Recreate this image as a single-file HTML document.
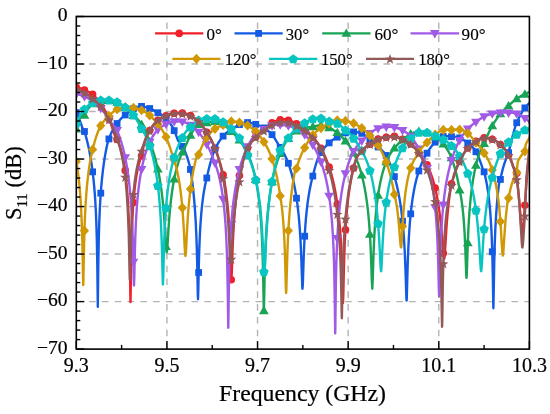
<!DOCTYPE html>
<html><head><meta charset="utf-8"><title>S11</title>
<style>html,body{margin:0;padding:0;background:#fff;} svg{display:block;}</style></head>
<body>
<svg width="550" height="414" viewBox="0 0 550 414">
<defs><clipPath id="pc"><rect x="76.30" y="16.50" width="453.10" height="332.60"/></clipPath></defs>
<rect width="550" height="414" fill="#fff"/>
<g stroke="#b4b4b4" stroke-width="1.4" stroke-dasharray="6.6,6.2" fill="none"><line x1="166.92" y1="349.10" x2="166.92" y2="16.50"/><line x1="257.54" y1="349.10" x2="257.54" y2="16.50"/><line x1="348.16" y1="349.10" x2="348.16" y2="16.50"/><line x1="438.78" y1="349.10" x2="438.78" y2="16.50"/><line x1="76.30" y1="64.01" x2="529.40" y2="64.01"/><line x1="76.30" y1="111.53" x2="529.40" y2="111.53"/><line x1="76.30" y1="159.04" x2="529.40" y2="159.04"/><line x1="76.30" y1="206.56" x2="529.40" y2="206.56"/><line x1="76.30" y1="254.07" x2="529.40" y2="254.07"/><line x1="76.30" y1="301.59" x2="529.40" y2="301.59"/></g>
<g clip-path="url(#pc)">
<path d="M75.30,87.47 75.80,87.38 76.30,87.30 76.80,87.39 77.30,87.49 77.80,87.60 78.30,87.72 78.80,87.85 79.30,87.99 79.80,88.14 80.30,88.30 80.80,88.47 81.30,88.65 81.80,88.84 82.30,89.04 82.80,89.25 83.30,89.47 83.80,89.71 84.30,89.95 84.80,90.18 85.30,90.37 85.80,90.57 86.30,90.78 86.80,91.00 87.30,91.24 87.80,91.48 88.30,91.73 88.80,91.99 89.30,92.27 89.80,92.55 90.30,92.85 90.80,93.15 91.30,93.47 91.80,93.80 92.30,94.14 92.80,94.51 93.30,94.98 93.80,95.47 94.30,95.96 94.80,96.46 95.30,96.98 95.80,97.51 96.30,98.06 96.80,98.61 97.30,99.18 97.80,99.77 98.30,100.36 98.80,100.97 99.30,101.60 99.80,102.24 100.30,102.94 100.80,103.68 101.30,104.44 101.80,105.21 102.30,106.00 102.80,106.81 103.30,107.64 103.80,108.48 104.30,109.34 104.80,110.22 105.30,111.12 105.80,112.04 106.30,112.98 106.80,113.94 107.30,114.93 107.80,116.04 108.30,117.25 108.80,118.48 109.30,119.73 109.80,121.02 110.30,122.33 110.80,123.67 111.30,125.04 111.80,126.44 112.30,127.88 112.80,129.35 113.30,130.85 113.80,132.40 114.30,133.98 114.80,135.44 115.30,136.25 115.80,137.12 116.30,138.03 116.80,139.00 117.30,140.03 117.80,141.12 118.30,142.28 118.80,143.51 119.30,144.82 119.80,146.22 120.30,147.71 120.80,149.30 121.30,151.01 121.80,152.84 122.30,154.81 122.80,156.93 123.30,159.24 123.80,161.75 124.30,164.49 124.80,167.50 125.30,170.94 125.80,175.53 126.30,180.60 126.80,186.26 127.30,192.67 127.80,200.08 128.30,208.91 128.80,219.84 129.30,234.28 129.80,255.49 130.30,291.32 130.50,302.06 130.80,283.14 131.30,251.78 131.80,233.35 132.30,220.74 132.80,211.26 133.30,203.71 133.80,197.46 134.30,192.16 134.80,187.57 135.30,183.55 135.80,179.97 136.30,176.76 136.80,173.86 137.30,171.23 137.80,168.82 138.30,166.61 138.80,164.57 139.30,162.68 139.80,160.93 140.30,159.31 140.80,157.79 141.30,156.37 141.80,154.52 142.30,152.21 142.80,149.99 143.30,147.83 143.80,145.74 144.30,143.72 144.80,141.75 145.30,139.83 145.80,138.38 146.30,137.24 146.80,136.15 147.30,135.10 147.80,134.10 148.30,133.13 148.80,132.20 149.30,131.30 149.80,130.43 150.30,129.60 150.80,128.79 151.30,128.02 151.80,127.27 152.30,126.55 152.80,125.85 153.30,125.18 153.80,124.53 154.30,123.90 154.80,123.30 155.30,122.71 155.80,122.15 156.30,121.61 156.80,121.14 157.30,120.71 157.80,120.29 158.30,119.89 158.80,119.51 159.30,119.15 159.80,118.80 160.30,118.47 160.80,118.15 161.30,117.85 161.80,117.57 162.30,117.30 162.80,117.04 163.30,116.80 163.80,116.57 164.30,116.35 164.80,116.15 165.30,115.96 165.80,115.78 166.30,115.62 166.80,115.47 167.30,115.33 167.80,115.10 168.30,114.89 168.80,114.69 169.30,114.50 169.80,114.32 170.30,114.16 170.80,114.00 171.30,113.86 171.80,113.72 172.30,113.60 172.80,113.49 173.30,113.39 173.80,113.30 174.30,113.22 174.80,113.15 175.30,113.09 175.80,113.04 176.30,113.01 176.80,112.98 177.30,112.96 177.80,112.95 178.30,112.94 178.80,112.93 179.30,112.93 179.80,112.94 180.30,112.96 180.80,112.98 181.30,113.02 181.80,113.07 182.30,113.13 182.80,113.20 183.30,113.28 183.80,113.37 184.30,113.46 184.80,113.57 185.30,113.69 185.80,113.82 186.30,113.96 186.80,114.11 187.30,114.27 187.80,114.44 188.30,114.63 188.80,114.82 189.30,115.02 189.80,115.23 190.30,115.48 190.80,115.74 191.30,116.02 191.80,116.31 192.30,116.61 192.80,116.92 193.30,117.24 193.80,117.57 194.30,117.92 194.80,118.28 195.30,118.65 195.80,119.03 196.30,119.42 196.80,119.83 197.30,120.25 197.80,120.68 198.30,121.13 198.80,121.61 199.30,122.17 199.80,122.74 200.30,123.33 200.80,123.93 201.30,124.54 201.80,125.18 202.30,125.82 202.80,126.49 203.30,127.17 203.80,127.87 204.30,128.58 204.80,129.32 205.30,130.07 205.80,130.84 206.30,131.58 206.80,132.34 207.30,133.11 207.80,133.91 208.30,134.73 208.80,135.57 209.30,136.43 209.80,137.32 210.30,138.24 210.80,139.18 211.30,140.16 211.80,141.16 212.30,142.19 212.80,143.25 213.30,144.35 213.80,145.48 214.30,146.65 214.80,147.86 215.30,149.11 215.80,150.41 216.30,151.75 216.80,153.14 217.30,154.59 217.80,156.09 218.30,157.64 218.80,159.26 219.30,160.82 219.80,162.35 220.30,163.96 220.80,165.66 221.30,167.46 221.80,169.35 222.30,171.37 222.80,173.51 223.30,175.80 223.80,178.24 224.30,180.87 224.80,183.70 225.30,186.77 225.80,190.12 226.30,193.80 226.80,197.87 227.30,202.42 227.80,207.56 228.30,213.46 228.80,220.36 229.30,228.62 229.80,238.80 230.30,251.73 230.80,267.83 231.30,280.06 231.35,280.20 231.80,272.47 232.30,257.27 232.80,244.01 233.30,233.34 233.80,224.60 234.30,217.26 234.80,210.95 235.30,205.43 235.80,200.52 236.30,196.10 236.80,192.09 237.30,188.42 237.80,185.02 238.30,181.88 238.80,178.94 239.30,176.19 239.80,173.60 240.30,171.15 240.80,168.84 241.30,166.64 241.80,164.55 242.30,162.56 242.80,160.65 243.30,158.82 243.80,157.07 244.30,155.39 244.80,153.77 245.30,152.36 245.80,151.25 246.30,150.18 246.80,149.17 247.30,148.20 247.80,147.28 248.30,146.39 248.80,145.55 249.30,144.74 249.80,143.97 250.30,143.23 250.80,142.52 251.30,141.84 251.80,141.19 252.30,140.57 252.80,139.97 253.30,139.40 253.80,138.85 254.30,138.33 254.80,137.83 255.30,137.35 255.80,136.81 256.30,136.23 256.80,135.66 257.30,135.12 257.80,134.60 258.30,134.09 258.80,133.60 259.30,133.12 259.80,132.67 260.30,132.23 260.80,131.80 261.30,131.39 261.80,130.99 262.30,130.61 262.80,130.25 263.30,129.89 263.80,129.55 264.30,129.22 264.80,128.79 265.30,128.30 265.80,127.82 266.30,127.35 266.80,126.89 267.30,126.45 267.80,126.01 268.30,125.59 268.80,125.18 269.30,124.77 269.80,124.38 270.30,124.00 270.80,123.63 271.30,123.27 271.80,122.92 272.30,122.66 272.80,122.41 273.30,122.16 273.80,121.93 274.30,121.71 274.80,121.49 275.30,121.29 275.80,121.09 276.30,120.91 276.80,120.73 277.30,120.56 277.80,120.40 278.30,120.25 278.80,120.10 279.30,119.97 279.80,119.84 280.30,119.73 280.80,119.62 281.30,119.52 281.80,119.43 282.30,119.34 282.80,119.27 283.30,119.20 283.80,119.14 284.30,119.17 284.80,119.27 285.30,119.37 285.80,119.48 286.30,119.60 286.80,119.73 287.30,119.87 287.80,120.01 288.30,120.16 288.80,120.32 289.30,120.49 289.80,120.66 290.30,120.85 290.80,121.04 291.30,121.24 291.80,121.45 292.30,121.67 292.80,121.89 293.30,122.13 293.80,122.37 294.30,122.62 294.80,122.88 295.30,123.15 295.80,123.42 296.30,123.71 296.80,124.00 297.30,124.30 297.80,124.62 298.30,124.94 298.80,125.27 299.30,125.60 299.80,125.95 300.30,126.31 300.80,126.67 301.30,127.05 301.80,127.44 302.30,127.83 302.80,128.22 303.30,128.54 303.80,128.88 304.30,129.22 304.80,129.58 305.30,129.95 305.80,130.32 306.30,130.71 306.80,131.11 307.30,131.52 307.80,131.94 308.30,132.37 308.80,132.82 309.30,133.28 309.80,133.75 310.30,134.23 310.80,134.72 311.30,135.23 311.80,135.75 312.30,136.29 312.80,136.84 313.30,137.41 313.80,137.99 314.30,138.58 314.80,139.19 315.30,139.82 315.80,140.46 316.30,141.13 316.80,141.80 317.30,142.50 317.80,143.21 318.30,143.95 318.80,144.70 319.30,145.48 319.80,146.27 320.30,147.09 320.80,147.93 321.30,148.83 321.80,149.75 322.30,150.70 322.80,151.68 323.30,152.68 323.80,153.72 324.30,154.78 324.80,155.88 325.30,157.01 325.80,158.18 326.30,159.39 326.80,160.63 327.30,161.92 327.80,163.25 328.30,164.63 328.80,166.06 329.30,167.54 329.80,169.09 330.30,170.69 330.80,172.36 331.30,174.10 331.80,175.92 332.30,177.82 332.80,179.82 333.30,181.91 333.80,184.12 334.30,186.45 334.80,188.92 335.30,191.55 335.80,194.35 336.30,197.35 336.80,200.57 337.30,204.06 337.80,207.51 338.30,211.33 338.80,215.61 339.30,220.45 339.80,226.02 340.30,232.55 340.80,240.38 341.30,250.09 341.80,262.67 342.30,279.72 342.80,299.72 343.00,303.01 343.30,294.91 343.80,272.14 344.30,254.94 344.80,242.24 345.30,232.29 345.80,224.22 346.30,217.44 346.80,211.58 347.30,206.41 347.80,201.79 348.30,197.62 348.80,193.81 349.30,190.31 349.80,187.06 350.30,184.04 350.80,181.22 351.30,178.57 351.80,176.07 352.30,173.71 352.80,171.47 353.30,169.34 353.80,167.31 354.30,165.37 354.80,163.52 355.30,161.74 355.80,160.03 356.30,158.39 356.80,157.33 357.30,156.44 357.80,155.61 358.30,154.84 358.80,154.10 359.30,153.42 359.80,152.77 360.30,152.17 360.80,151.60 361.30,151.07 361.80,150.58 362.30,150.11 362.80,149.68 363.30,149.28 363.80,148.84 364.30,148.34 364.80,147.86 365.30,147.41 365.80,146.98 366.30,146.58 366.80,146.19 367.30,145.83 367.80,145.50 368.30,145.18 368.80,144.88 369.30,144.60 369.80,144.34 370.30,144.10 370.80,143.87 371.30,143.48 371.80,143.07 372.30,142.67 372.80,142.29 373.30,141.92 373.80,141.57 374.30,141.23 374.80,140.91 375.30,140.60 375.80,140.31 376.30,140.03 376.80,139.76 377.30,139.50 377.80,139.26 378.30,139.04 378.80,138.84 379.30,138.65 379.80,138.47 380.30,138.31 380.80,138.15 381.30,138.01 381.80,137.88 382.30,137.76 382.80,137.66 383.30,137.56 383.80,137.47 384.30,137.40 384.80,137.34 385.30,137.28 385.80,137.24 386.30,137.21 386.80,137.19 387.30,137.18 387.80,137.05 388.30,136.92 388.80,136.81 389.30,136.71 389.80,136.61 390.30,136.53 390.80,136.46 391.30,136.40 391.80,136.34 392.30,136.30 392.80,136.27 393.30,136.24 393.80,136.18 394.30,136.18 394.80,136.26 395.30,136.39 395.80,136.53 396.30,136.68 396.80,136.85 397.30,137.02 397.80,137.20 398.30,137.39 398.80,137.59 399.30,137.81 399.80,138.03 400.30,138.26 400.80,138.51 401.30,138.76 401.80,139.02 402.30,139.21 402.80,139.41 403.30,139.62 403.80,139.84 404.30,140.08 404.80,140.32 405.30,140.57 405.80,140.84 406.30,141.12 406.80,141.41 407.30,141.71 407.80,142.02 408.30,142.34 408.80,142.68 409.30,143.03 409.80,143.39 410.30,143.77 410.80,144.15 411.30,144.58 411.80,145.03 412.30,145.48 412.80,145.96 413.30,146.45 413.80,146.95 414.30,147.47 414.80,148.00 415.30,148.55 415.80,149.11 416.30,149.69 416.80,150.29 417.30,150.91 417.80,151.54 418.30,152.11 418.80,152.65 419.30,153.21 419.80,153.79 420.30,154.38 420.80,155.00 421.30,155.65 421.80,156.31 422.30,157.00 422.80,157.71 423.30,158.45 423.80,159.22 424.30,160.02 424.80,160.84 425.30,161.69 425.80,162.58 426.30,163.50 426.80,164.45 427.30,165.44 427.80,166.47 428.30,167.54 428.80,168.66 429.30,169.81 429.80,171.02 430.30,172.28 430.80,173.59 431.30,174.97 431.80,176.40 432.30,177.90 432.80,179.48 433.30,181.13 433.80,182.87 434.30,184.70 434.80,186.63 435.30,188.67 435.80,190.84 436.30,193.13 436.80,195.58 437.30,198.20 437.80,201.01 438.30,204.02 438.80,207.29 439.30,210.83 439.80,214.69 440.30,218.92 440.80,223.57 441.30,228.70 441.80,234.34 442.30,240.47 442.80,246.90 443.30,253.02 443.80,257.54 444.20,258.82 444.30,258.68 444.80,254.29 445.30,246.36 445.80,237.87 446.30,229.99 446.80,222.99 447.30,216.79 447.80,211.28 448.30,206.35 448.80,201.90 449.30,197.86 449.80,194.16 450.30,190.75 450.80,187.60 451.30,184.66 451.80,183.23 452.30,181.08 452.80,179.08 453.30,177.22 453.80,175.48 454.30,173.86 454.80,172.34 455.30,170.91 455.80,169.58 456.30,168.32 456.80,167.14 457.30,166.02 457.80,164.97 458.30,163.99 458.80,163.05 459.30,162.18 459.80,161.04 460.30,159.95 460.80,158.90 461.30,157.90 461.80,156.94 462.30,156.01 462.80,155.13 463.30,154.28 463.80,153.46 464.30,152.68 464.80,151.92 465.30,151.20 465.80,150.51 466.30,149.85 466.80,149.21 467.30,148.60 467.80,148.02 468.30,147.47 468.80,146.94 469.30,146.43 469.80,145.95 470.30,145.49 470.80,145.05 471.30,144.63 471.80,144.24 472.30,143.86 472.80,143.51 473.30,143.17 473.80,142.86 474.30,142.56 474.80,142.26 475.30,141.87 475.80,141.51 476.30,141.16 476.80,140.83 477.30,140.51 477.80,140.22 478.30,139.94 478.80,139.68 479.30,139.44 479.80,139.21 480.30,139.00 480.80,138.81 481.30,138.63 481.80,138.47 482.30,138.33 482.80,138.21 483.30,137.97 483.80,137.90 484.30,137.85 484.80,137.81 485.30,137.80 485.80,137.80 486.30,137.81 486.80,137.85 487.30,137.90 487.80,137.97 488.30,138.05 488.80,138.15 489.30,138.27 489.80,138.41 490.30,138.57 490.80,138.74 491.30,138.92 491.80,139.05 492.30,139.21 492.80,139.39 493.30,139.58 493.80,139.80 494.30,140.03 494.80,140.29 495.30,140.56 495.80,140.86 496.30,141.18 496.80,141.52 497.30,141.88 497.80,142.27 498.30,142.68 498.80,143.11 499.30,143.58 499.80,144.06 500.30,144.42 500.80,144.80 501.30,145.22 501.80,145.66 502.30,146.13 502.80,146.64 503.30,147.18 503.80,147.75 504.30,148.36 504.80,149.01 505.30,149.70 505.80,150.42 506.30,151.19 506.80,152.01 507.30,152.87 507.80,153.74 508.30,154.58 508.80,155.48 509.30,156.44 509.80,157.46 510.30,158.55 510.80,159.72 511.30,160.97 511.80,162.31 512.30,163.75 512.80,165.29 513.30,166.94 513.80,167.57 514.30,168.05 514.80,168.70 515.30,169.54 515.80,170.59 516.30,171.88 516.80,174.47 517.30,182.01 517.80,186.18 518.30,190.74 518.80,195.76 519.30,201.31 519.80,207.45 520.30,214.18 520.80,221.35 521.30,228.31 521.80,233.56 522.20,235.07 522.30,234.97 522.80,231.86 523.30,225.88 523.80,219.02 524.30,212.34 524.80,206.20 525.30,199.04 525.80,191.92 526.30,185.18 526.80,178.80 527.30,172.74 527.80,166.99 528.30,161.49 528.80,156.23 529.30,151.18 529.80,147.63 530.30,145.12" fill="none" stroke="#f0202a" stroke-width="2.4" stroke-linejoin="round"/>
<g fill="#f0202a"><circle cx="76.30" cy="87.30" r="3.8"/><circle cx="84.46" cy="90.02" r="3.8"/><circle cx="92.61" cy="94.36" r="3.8"/><circle cx="100.77" cy="103.63" r="3.8"/><circle cx="108.92" cy="118.79" r="3.8"/><circle cx="117.08" cy="139.57" r="3.8"/><circle cx="125.24" cy="170.38" r="3.8"/><circle cx="133.39" cy="202.47" r="3.8"/><circle cx="141.55" cy="155.70" r="3.8"/><circle cx="149.70" cy="130.59" r="3.8"/><circle cx="157.86" cy="120.24" r="3.8"/><circle cx="166.02" cy="115.71" r="3.8"/><circle cx="174.17" cy="113.24" r="3.8"/><circle cx="182.33" cy="113.13" r="3.8"/><circle cx="190.48" cy="115.57" r="3.8"/><circle cx="198.64" cy="121.44" r="3.8"/><circle cx="206.80" cy="132.33" r="3.8"/><circle cx="214.95" cy="148.24" r="3.8"/><circle cx="223.11" cy="174.90" r="3.8"/><circle cx="231.26" cy="279.79" r="3.8"/><circle cx="239.42" cy="175.55" r="3.8"/><circle cx="247.58" cy="147.69" r="3.8"/><circle cx="255.73" cy="136.89" r="3.8"/><circle cx="263.89" cy="129.49" r="3.8"/><circle cx="272.04" cy="122.79" r="3.8"/><circle cx="280.20" cy="119.75" r="3.8"/><circle cx="288.36" cy="120.18" r="3.8"/><circle cx="296.51" cy="123.83" r="3.8"/><circle cx="304.67" cy="129.48" r="3.8"/><circle cx="312.82" cy="136.87" r="3.8"/><circle cx="320.98" cy="148.25" r="3.8"/><circle cx="329.14" cy="167.05" r="3.8"/><circle cx="337.29" cy="204.01" r="3.8"/><circle cx="345.45" cy="229.71" r="3.8"/><circle cx="353.60" cy="168.09" r="3.8"/><circle cx="361.76" cy="150.62" r="3.8"/><circle cx="369.92" cy="144.28" r="3.8"/><circle cx="378.07" cy="139.14" r="3.8"/><circle cx="386.23" cy="137.21" r="3.8"/><circle cx="394.38" cy="136.18" r="3.8"/><circle cx="402.54" cy="139.31" r="3.8"/><circle cx="410.70" cy="144.07" r="3.8"/><circle cx="418.85" cy="152.71" r="3.8"/><circle cx="427.01" cy="164.86" r="3.8"/><circle cx="435.16" cy="188.10" r="3.8"/><circle cx="443.32" cy="253.25" r="3.8"/><circle cx="451.48" cy="183.68" r="3.8"/><circle cx="459.63" cy="161.42" r="3.8"/><circle cx="467.79" cy="148.04" r="3.8"/><circle cx="475.94" cy="141.40" r="3.8"/><circle cx="484.10" cy="137.87" r="3.8"/><circle cx="492.26" cy="139.20" r="3.8"/><circle cx="500.41" cy="144.50" r="3.8"/><circle cx="508.57" cy="155.05" r="3.8"/><circle cx="516.72" cy="173.19" r="3.8"/><circle cx="524.88" cy="205.28" r="3.8"/></g>
<path d="M75.30,110.91 75.80,111.69 76.30,112.63 76.80,113.69 77.30,114.79 77.80,115.91 78.30,117.06 78.80,118.24 79.30,119.45 79.80,120.70 80.30,121.98 80.80,123.30 81.30,124.66 81.80,126.06 82.30,127.50 82.80,128.99 83.30,130.53 83.80,131.47 84.30,131.47 84.80,132.60 85.30,134.28 85.80,136.03 86.30,137.85 86.80,139.76 87.30,141.75 87.80,143.85 88.30,146.04 88.80,148.36 89.30,150.81 89.80,153.40 90.30,156.16 90.80,159.10 91.30,162.26 91.80,165.67 92.30,169.36 92.80,173.31 93.30,177.53 93.80,182.26 94.30,187.63 94.80,193.85 95.30,201.23 95.80,210.26 96.30,221.88 96.80,238.10 97.30,264.51 97.80,306.81 97.80,306.81 98.30,264.35 98.80,237.73 99.30,221.32 99.80,209.51 100.30,200.29 100.80,192.72 101.30,186.29 101.80,180.70 102.30,175.76 102.80,171.33 103.30,167.32 103.80,163.65 104.30,160.27 104.80,157.14 105.30,154.23 105.80,151.50 106.30,148.94 106.80,146.52 107.30,144.24 107.80,142.35 108.30,140.77 108.80,139.28 109.30,137.88 109.80,136.56 110.30,135.32 110.80,134.14 111.30,133.03 111.80,131.98 112.30,130.99 112.80,130.05 113.30,129.16 113.80,128.31 114.30,127.51 114.80,126.75 115.30,126.03 115.80,125.35 116.30,124.67 116.80,123.92 117.30,123.19 117.80,122.50 118.30,121.83 118.80,121.19 119.30,120.58 119.80,120.00 120.30,119.44 120.80,118.90 121.30,118.39 121.80,117.90 122.30,117.43 122.80,116.99 123.30,116.56 123.80,116.16 124.30,115.77 124.80,115.40 125.30,114.92 125.80,114.42 126.30,113.95 126.80,113.48 127.30,113.04 127.80,112.61 128.30,112.20 128.80,111.80 129.30,111.42 129.80,111.05 130.30,110.69 130.80,110.35 131.30,110.02 131.80,109.71 132.30,109.41 132.80,109.12 133.30,108.85 133.80,108.59 134.30,108.34 134.80,108.10 135.30,107.88 135.80,107.66 136.30,107.46 136.80,107.27 137.30,107.09 137.80,106.93 138.30,106.77 138.80,106.63 139.30,106.49 139.80,106.37 140.30,106.31 140.80,106.34 141.30,106.39 141.80,106.44 142.30,106.51 142.80,106.58 143.30,106.67 143.80,106.77 144.30,106.87 144.80,106.99 145.30,107.12 145.80,107.25 146.30,107.40 146.80,107.56 147.30,107.73 147.80,107.87 148.30,108.02 148.80,108.18 149.30,108.35 149.80,108.53 150.30,108.72 150.80,108.92 151.30,109.13 151.80,109.35 152.30,109.58 152.80,109.82 153.30,110.08 153.80,110.34 154.30,110.61 154.80,110.90 155.30,111.19 155.80,111.50 156.30,111.81 156.80,112.14 157.30,112.48 157.80,112.70 158.30,112.94 158.80,113.19 159.30,113.45 159.80,113.73 160.30,114.01 160.80,114.31 161.30,114.61 161.80,114.93 162.30,115.27 162.80,115.61 163.30,115.97 163.80,116.34 164.30,116.73 164.80,117.12 165.30,117.53 165.80,118.03 166.30,118.60 166.80,119.17 167.30,119.77 167.80,120.37 168.30,121.00 168.80,121.64 169.30,122.29 169.80,122.96 170.30,123.65 170.80,124.35 171.30,125.08 171.80,125.82 172.30,126.58 172.80,127.43 173.30,128.58 173.80,129.75 174.30,130.94 174.80,132.16 175.30,133.39 175.80,134.65 176.30,135.94 176.80,137.25 177.30,138.58 177.80,139.95 178.30,140.83 178.80,141.39 179.30,141.98 179.80,142.61 180.30,143.28 180.80,143.98 181.30,144.71 181.80,145.49 182.30,146.31 182.80,147.18 183.30,148.09 183.80,149.06 184.30,150.08 184.80,151.16 185.30,152.30 185.80,153.51 186.30,154.79 186.80,156.15 187.30,157.60 187.80,159.14 188.30,160.78 188.80,162.54 189.30,164.42 189.80,166.44 190.30,168.61 190.80,171.45 191.30,174.77 191.80,178.32 192.30,182.15 192.80,186.29 193.30,190.81 193.80,195.80 194.30,201.36 194.80,207.67 195.30,214.96 195.80,223.62 196.30,234.28 196.80,248.14 197.30,267.58 197.80,293.94 198.00,299.21 198.30,289.65 198.80,265.55 199.30,248.56 199.80,236.39 200.30,227.06 200.80,219.56 201.30,213.32 201.80,208.00 202.30,203.38 202.80,199.31 203.30,195.68 203.80,192.42 204.30,189.46 204.80,186.77 205.30,184.30 205.80,182.03 206.30,179.93 206.80,177.97 207.30,175.56 207.80,173.26 208.30,171.08 208.80,169.00 209.30,167.01 209.80,165.10 210.30,163.27 210.80,161.51 211.30,159.81 211.80,158.18 212.30,156.61 212.80,155.08 213.30,153.61 213.80,152.19 214.30,150.81 214.80,149.57 215.30,148.52 215.80,147.51 216.30,146.53 216.80,145.59 217.30,144.68 217.80,143.80 218.30,142.95 218.80,142.13 219.30,141.33 219.80,140.57 220.30,139.82 220.80,139.10 221.30,138.41 221.80,137.74 222.30,137.08 222.80,136.48 223.30,135.92 223.80,135.39 224.30,134.88 224.80,134.38 225.30,133.90 225.80,133.44 226.30,133.00 226.80,132.57 227.30,132.16 227.80,131.76 228.30,131.38 228.80,131.02 229.30,130.67 229.80,130.33 230.30,130.01 230.80,129.70 231.30,129.36 231.80,128.99 232.30,128.65 232.80,128.31 233.30,127.99 233.80,127.68 234.30,127.38 234.80,127.09 235.30,126.82 235.80,126.55 236.30,126.30 236.80,126.02 237.30,125.73 237.80,125.46 238.30,125.19 238.80,124.94 239.30,124.70 239.80,124.46 240.30,124.24 240.80,124.03 241.30,123.83 241.80,123.64 242.30,123.45 242.80,123.28 243.30,123.12 243.80,122.97 244.30,122.82 244.80,122.69 245.30,122.57 245.80,122.45 246.30,122.47 246.80,122.50 247.30,122.54 247.80,122.58 248.30,122.64 248.80,122.71 249.30,122.78 249.80,122.87 250.30,122.96 250.80,123.06 251.30,123.17 251.80,123.29 252.30,123.43 252.80,123.57 253.30,123.72 253.80,123.88 254.30,123.98 254.80,124.09 255.30,124.22 255.80,124.35 256.30,124.49 256.80,124.65 257.30,124.81 257.80,124.98 258.30,125.16 258.80,125.36 259.30,125.56 259.80,125.77 260.30,125.99 260.80,126.22 261.30,126.47 261.80,126.72 262.30,126.98 262.80,127.26 263.30,127.55 263.80,127.85 264.30,128.17 264.80,128.49 265.30,128.83 265.80,129.18 266.30,129.54 266.80,129.91 267.30,130.29 267.80,130.69 268.30,131.09 268.80,131.52 269.30,131.95 269.80,132.40 270.30,132.86 270.80,133.33 271.30,133.82 271.80,134.32 272.30,135.00 272.80,135.70 273.30,136.41 273.80,137.13 274.30,137.87 274.80,138.63 275.30,139.41 275.80,140.20 276.30,141.01 276.80,141.84 277.30,142.68 277.80,143.55 278.30,144.44 278.80,145.35 279.30,146.12 279.80,146.81 280.30,147.52 280.80,148.25 281.30,149.01 281.80,149.80 282.30,150.61 282.80,151.45 283.30,152.32 283.80,153.23 284.30,154.16 284.80,155.13 285.30,156.14 285.80,157.18 286.30,158.27 286.80,159.39 287.30,160.57 287.80,161.79 288.30,163.10 288.80,164.55 289.30,166.04 289.80,167.59 290.30,169.21 290.80,170.90 291.30,172.67 291.80,174.52 292.30,176.46 292.80,178.51 293.30,180.67 293.80,182.95 294.30,185.37 294.80,187.94 295.30,190.69 295.80,193.63 296.30,196.80 296.80,200.13 297.30,203.70 297.80,207.64 298.30,212.03 298.80,216.96 299.30,222.60 299.80,229.13 300.30,236.88 300.80,246.29 301.30,258.06 301.80,272.74 302.30,286.86 302.50,288.76 302.80,284.65 303.30,269.25 303.80,254.81 304.30,243.27 304.80,234.01 305.30,226.50 305.80,220.14 306.30,214.64 306.80,209.81 307.30,205.51 307.80,201.63 308.30,198.12 308.80,194.90 309.30,191.95 309.80,189.21 310.30,186.66 310.80,184.29 311.30,182.06 311.80,179.97 312.30,178.01 312.80,176.15 313.30,174.06 313.80,172.04 314.30,170.11 314.80,168.26 315.30,166.47 315.80,164.76 316.30,163.10 316.80,161.50 317.30,159.95 317.80,158.80 318.30,157.70 318.80,156.64 319.30,155.62 319.80,154.64 320.30,153.74 320.80,152.91 321.30,152.10 321.80,151.33 322.30,150.59 322.80,149.88 323.30,149.20 323.80,148.55 324.30,147.92 324.80,147.32 325.30,146.74 325.80,146.19 326.30,145.65 326.80,145.14 327.30,144.65 327.80,144.18 328.30,143.72 328.80,143.22 329.30,142.73 329.80,142.27 330.30,141.82 330.80,141.39 331.30,140.98 331.80,140.58 332.30,140.20 332.80,139.83 333.30,139.48 333.80,139.15 334.30,138.82 334.80,138.52 335.30,138.22 335.80,137.94 336.30,137.67 336.80,137.42 337.30,137.17 337.80,136.82 338.30,136.49 338.80,136.16 339.30,135.85 339.80,135.55 340.30,135.26 340.80,134.98 341.30,134.72 341.80,134.46 342.30,134.21 342.80,133.98 343.30,133.76 343.80,133.54 344.30,133.34 344.80,133.15 345.30,132.97 345.80,132.82 346.30,132.69 346.80,132.57 347.30,132.47 347.80,132.37 348.30,132.28 348.80,132.21 349.30,132.14 349.80,132.08 350.30,132.03 350.80,131.99 351.30,131.96 351.80,131.94 352.30,131.93 352.80,131.93 353.30,131.94 353.80,131.95 354.30,131.97 354.80,132.00 355.30,132.04 355.80,132.09 356.30,132.14 356.80,132.21 357.30,132.28 357.80,132.36 358.30,132.46 358.80,132.56 359.30,132.67 359.80,132.79 360.30,132.93 360.80,133.07 361.30,133.22 361.80,133.38 362.30,133.65 362.80,133.94 363.30,134.24 363.80,134.54 364.30,134.86 364.80,135.18 365.30,135.52 365.80,135.87 366.30,136.22 366.80,136.59 367.30,136.97 367.80,137.36 368.30,137.76 368.80,138.17 369.30,138.60 369.80,139.03 370.30,139.48 370.80,139.94 371.30,140.35 371.80,140.75 372.30,141.17 372.80,141.60 373.30,142.05 373.80,142.51 374.30,142.98 374.80,143.46 375.30,143.96 375.80,144.48 376.30,145.01 376.80,145.55 377.30,146.11 377.80,146.68 378.30,147.22 378.80,147.60 379.30,147.99 379.80,148.40 380.30,148.82 380.80,149.26 381.30,149.73 381.80,150.21 382.30,150.71 382.80,151.24 383.30,151.78 383.80,152.35 384.30,152.94 384.80,153.56 385.30,154.20 385.80,154.86 386.30,155.56 386.80,156.51 387.30,157.55 387.80,158.63 388.30,159.73 388.80,160.87 389.30,162.05 389.80,163.26 390.30,164.51 390.80,165.80 391.30,167.14 391.80,168.53 392.30,169.97 392.80,171.46 393.30,173.00 393.80,174.61 394.30,176.28 394.80,177.95 395.30,179.69 395.80,181.50 396.30,183.41 396.80,185.41 397.30,187.53 397.80,189.76 398.30,192.13 398.80,194.66 399.30,197.35 399.80,200.23 400.30,203.34 400.80,206.70 401.30,210.37 401.80,214.39 402.30,218.85 402.80,223.84 403.30,229.50 403.80,236.03 404.30,243.72 404.80,253.04 405.30,264.67 405.80,279.51 406.30,296.02 406.60,300.64 406.80,297.57 407.30,278.26 407.80,261.25 408.30,248.50 408.80,238.57 409.30,230.51 409.80,223.75 410.30,217.93 410.80,212.85 411.30,208.36 411.80,204.33 412.30,200.68 412.80,197.34 413.30,194.27 413.80,191.43 414.30,188.80 414.80,186.34 415.30,184.03 415.80,181.87 416.30,179.83 416.80,177.91 417.30,176.09 417.80,174.36 418.30,172.72 418.80,171.16 419.30,169.68 419.80,168.26 420.30,166.90 420.80,165.61 421.30,164.37 421.80,163.18 422.30,162.04 422.80,160.95 423.30,159.91 423.80,158.90 424.30,157.94 424.80,157.01 425.30,156.12 425.80,155.26 426.30,154.44 426.80,153.55 427.30,152.67 427.80,151.82 428.30,151.00 428.80,150.21 429.30,149.44 429.80,148.70 430.30,147.98 430.80,147.28 431.30,146.61 431.80,145.96 432.30,145.33 432.80,144.73 433.30,144.14 433.80,143.57 434.30,143.04 434.80,142.53 435.30,142.03 435.80,141.56 436.30,141.10 436.80,140.66 437.30,140.24 437.80,139.84 438.30,139.45 438.80,139.08 439.30,138.72 439.80,138.38 440.30,138.05 440.80,137.74 441.30,137.45 441.80,137.17 442.30,136.91 442.80,136.68 443.30,136.57 443.80,136.47 444.30,136.38 444.80,136.31 445.30,136.26 445.80,136.22 446.30,136.19 446.80,136.17 447.30,136.17 447.80,136.19 448.30,136.21 448.80,136.25 449.30,136.31 449.80,136.37 450.30,136.46 450.80,136.55 451.30,136.66 451.80,136.68 452.30,136.65 452.80,136.64 453.30,136.64 453.80,136.65 454.30,136.68 454.80,136.72 455.30,136.77 455.80,136.84 456.30,136.93 456.80,137.02 457.30,137.13 457.80,137.26 458.30,137.40 458.80,137.56 459.30,137.73 459.80,137.93 460.30,138.15 460.80,138.39 461.30,138.63 461.80,138.90 462.30,139.18 462.80,139.48 463.30,139.79 463.80,140.12 464.30,140.47 464.80,140.84 465.30,141.23 465.80,141.63 466.30,142.05 466.80,142.46 467.30,142.75 467.80,143.06 468.30,143.39 468.80,143.74 469.30,144.12 469.80,144.51 470.30,144.94 470.80,145.38 471.30,145.85 471.80,146.35 472.30,146.88 472.80,147.43 473.30,148.01 473.80,148.62 474.30,149.27 474.80,149.95 475.30,150.66 475.80,151.50 476.30,152.43 476.80,153.41 477.30,154.43 477.80,155.49 478.30,156.60 478.80,157.76 479.30,158.97 479.80,160.24 480.30,161.57 480.80,162.96 481.30,164.42 481.80,165.96 482.30,167.58 482.80,169.29 483.30,171.09 483.80,171.82 484.30,172.60 484.80,174.57 485.30,176.69 485.80,178.97 486.30,181.44 486.80,184.11 487.30,187.02 487.80,190.22 488.30,193.74 488.80,197.67 489.30,202.08 489.80,207.11 490.30,212.92 490.80,219.80 491.30,228.18 491.80,238.82 492.30,253.23 492.80,274.89 493.30,306.02 493.40,308.24 493.80,286.69 494.30,259.83 494.80,242.54 495.30,230.07 495.80,220.36 496.30,212.39 496.80,205.64 497.30,199.77 497.80,194.58 498.30,189.93 498.80,185.70 499.30,181.84 499.80,179.00 500.30,179.33 500.80,177.47 501.30,175.11 501.80,172.91 502.30,170.87 502.80,168.97 503.30,167.18 503.80,165.50 504.30,163.93 504.80,162.44 505.30,161.04 505.80,159.72 506.30,158.47 506.80,157.28 507.30,156.16 507.80,155.09 508.30,153.83 508.80,151.62 509.30,149.46 509.80,147.35 510.30,145.28 510.80,143.25 511.30,141.26 511.80,139.31 512.30,137.39 512.80,135.50 513.30,133.65 513.80,131.83 514.30,130.04 514.80,128.27 515.30,126.54 515.80,124.83 516.30,123.68 516.80,122.56 517.30,121.47 517.80,120.40 518.30,119.35 518.80,118.32 519.30,117.31 519.80,116.32 520.30,115.36 520.80,114.41 521.30,113.49 521.80,112.58 522.30,111.69 522.80,110.82 523.30,109.96 523.80,109.24 524.30,108.61 524.80,107.99 525.30,107.39 525.80,106.81 526.30,106.24 526.80,105.69 527.30,105.15 527.80,104.63 528.30,104.13 528.80,103.64 529.30,103.16 529.80,102.86 530.30,102.67" fill="none" stroke="#145be4" stroke-width="2.4" stroke-linejoin="round"/>
<g fill="#145be4"><rect x="72.90" y="109.23" width="6.8" height="6.8"/><rect x="81.06" y="128.08" width="6.8" height="6.8"/><rect x="89.21" y="168.44" width="6.8" height="6.8"/><rect x="97.37" y="189.77" width="6.8" height="6.8"/><rect x="105.52" y="135.52" width="6.8" height="6.8"/><rect x="113.68" y="120.11" width="6.8" height="6.8"/><rect x="121.84" y="111.58" width="6.8" height="6.8"/><rect x="129.99" y="105.40" width="6.8" height="6.8"/><rect x="138.15" y="103.01" width="6.8" height="6.8"/><rect x="146.30" y="105.09" width="6.8" height="6.8"/><rect x="154.46" y="109.33" width="6.8" height="6.8"/><rect x="162.62" y="114.87" width="6.8" height="6.8"/><rect x="170.77" y="127.23" width="6.8" height="6.8"/><rect x="178.93" y="142.96" width="6.8" height="6.8"/><rect x="187.08" y="166.06" width="6.8" height="6.8"/><rect x="195.24" y="269.11" width="6.8" height="6.8"/><rect x="203.40" y="174.59" width="6.8" height="6.8"/><rect x="211.55" y="145.85" width="6.8" height="6.8"/><rect x="219.71" y="132.73" width="6.8" height="6.8"/><rect x="227.86" y="125.98" width="6.8" height="6.8"/><rect x="236.02" y="121.24" width="6.8" height="6.8"/><rect x="244.18" y="119.16" width="6.8" height="6.8"/><rect x="252.33" y="120.93" width="6.8" height="6.8"/><rect x="260.49" y="124.51" width="6.8" height="6.8"/><rect x="268.64" y="131.25" width="6.8" height="6.8"/><rect x="276.80" y="143.97" width="6.8" height="6.8"/><rect x="284.96" y="159.87" width="6.8" height="6.8"/><rect x="293.11" y="194.82" width="6.8" height="6.8"/><rect x="301.27" y="232.83" width="6.8" height="6.8"/><rect x="309.42" y="172.66" width="6.8" height="6.8"/><rect x="317.58" y="149.21" width="6.8" height="6.8"/><rect x="325.74" y="139.49" width="6.8" height="6.8"/><rect x="333.89" y="133.78" width="6.8" height="6.8"/><rect x="342.05" y="129.52" width="6.8" height="6.8"/><rect x="350.20" y="128.55" width="6.8" height="6.8"/><rect x="358.36" y="129.97" width="6.8" height="6.8"/><rect x="366.52" y="135.73" width="6.8" height="6.8"/><rect x="374.67" y="143.60" width="6.8" height="6.8"/><rect x="382.83" y="152.05" width="6.8" height="6.8"/><rect x="390.98" y="173.17" width="6.8" height="6.8"/><rect x="399.14" y="217.77" width="6.8" height="6.8"/><rect x="407.30" y="210.45" width="6.8" height="6.8"/><rect x="415.45" y="167.60" width="6.8" height="6.8"/><rect x="423.61" y="149.78" width="6.8" height="6.8"/><rect x="431.76" y="138.77" width="6.8" height="6.8"/><rect x="439.92" y="133.16" width="6.8" height="6.8"/><rect x="448.08" y="133.30" width="6.8" height="6.8"/><rect x="456.23" y="134.47" width="6.8" height="6.8"/><rect x="464.39" y="139.65" width="6.8" height="6.8"/><rect x="472.54" y="148.36" width="6.8" height="6.8"/><rect x="480.70" y="168.44" width="6.8" height="6.8"/><rect x="488.86" y="248.35" width="6.8" height="6.8"/><rect x="497.01" y="176.03" width="6.8" height="6.8"/><rect x="505.17" y="149.24" width="6.8" height="6.8"/><rect x="513.32" y="119.33" width="6.8" height="6.8"/><rect x="521.48" y="104.49" width="6.8" height="6.8"/></g>
<path d="M75.30,135.14 75.80,131.76 76.30,129.03 76.80,126.78 77.30,124.74 77.80,122.88 78.30,121.17 78.80,119.95 79.30,119.09 79.80,118.34 80.30,117.69 80.80,117.14 81.30,116.67 81.80,116.28 82.30,115.96 82.80,115.71 83.30,115.52 83.80,115.39 84.30,115.32 84.80,114.68 85.30,113.69 85.80,112.75 86.30,111.84 86.80,110.98 87.30,110.16 87.80,109.37 88.30,108.62 88.80,107.90 89.30,107.21 89.80,106.55 90.30,105.92 90.80,105.32 91.30,104.77 91.80,104.36 92.30,103.96 92.80,103.59 93.30,103.25 93.80,102.92 94.30,102.62 94.80,102.34 95.30,102.08 95.80,101.84 96.30,101.62 96.80,101.42 97.30,101.23 97.80,101.06 98.30,100.91 98.80,100.78 99.30,100.66 99.80,100.56 100.30,100.48 100.80,100.41 101.30,100.35 101.80,100.31 102.30,100.28 102.80,100.27 103.30,100.28 103.80,100.29 104.30,100.32 104.80,100.36 105.30,100.42 105.80,100.49 106.30,100.57 106.80,100.56 107.30,100.54 107.80,100.52 108.30,100.52 108.80,100.54 109.30,100.56 109.80,100.60 110.30,100.64 110.80,100.70 111.30,100.77 111.80,100.86 112.30,100.95 112.80,101.05 113.30,101.17 113.80,101.30 114.30,101.43 114.80,101.58 115.30,101.74 115.80,101.91 116.30,102.09 116.80,102.28 117.30,102.49 117.80,102.72 118.30,102.97 118.80,103.23 119.30,103.50 119.80,103.79 120.30,104.08 120.80,104.38 121.30,104.69 121.80,105.02 122.30,105.35 122.80,105.70 123.30,106.06 123.80,106.43 124.30,106.81 124.80,107.20 125.30,107.60 125.80,108.01 126.30,108.43 126.80,108.85 127.30,109.28 127.80,109.72 128.30,110.18 128.80,110.65 129.30,111.13 129.80,111.62 130.30,112.12 130.80,112.64 131.30,113.17 131.80,113.71 132.30,114.27 132.80,114.84 133.30,115.42 133.80,115.94 134.30,116.34 134.80,116.76 135.30,117.20 135.80,117.65 136.30,118.11 136.80,118.59 137.30,119.09 137.80,119.60 138.30,120.13 138.80,120.68 139.30,121.24 139.80,121.91 140.30,122.65 140.80,123.41 141.30,124.20 141.80,125.00 142.30,125.82 142.80,126.66 143.30,127.53 143.80,128.42 144.30,129.33 144.80,130.27 145.30,131.23 145.80,132.31 146.30,133.44 146.80,134.60 147.30,135.79 147.80,137.01 148.30,138.26 148.80,139.55 149.30,140.87 149.80,142.23 150.30,143.63 150.80,144.96 151.30,146.26 151.80,147.61 152.30,149.01 152.80,150.46 153.30,151.97 153.80,153.53 154.30,155.16 154.80,156.86 155.30,158.64 155.80,160.49 156.30,162.43 156.80,164.47 157.30,166.61 157.80,168.87 158.30,171.25 158.80,173.78 159.30,176.46 159.80,179.32 160.30,182.38 160.80,185.68 161.30,189.23 161.80,193.10 162.30,197.33 162.80,201.98 163.30,207.15 163.80,212.93 164.30,219.44 164.80,226.77 165.30,234.89 165.80,243.27 166.30,250.09 166.70,252.17 166.80,252.04 167.30,247.80 167.80,240.17 168.30,231.99 168.80,224.39 169.30,217.64 169.80,211.67 170.30,206.37 170.80,201.65 171.30,197.40 171.80,193.54 172.30,190.03 172.80,186.80 173.30,183.82 173.80,181.06 174.30,178.49 174.80,176.08 175.30,173.83 175.80,171.72 176.30,169.72 176.80,167.84 177.30,166.05 177.80,164.36 178.30,162.75 178.80,161.22 179.30,159.76 179.80,158.37 180.30,157.04 180.80,155.77 181.30,154.55 181.80,153.39 182.30,152.27 182.80,151.20 183.30,150.17 183.80,149.18 184.30,148.23 184.80,147.31 185.30,146.43 185.80,145.37 186.30,144.19 186.80,143.05 187.30,141.93 187.80,140.84 188.30,139.77 188.80,138.73 189.30,137.72 189.80,136.73 190.30,135.76 190.80,134.82 191.30,133.90 191.80,133.00 192.30,132.12 192.80,131.28 193.30,130.58 193.80,129.89 194.30,129.22 194.80,128.57 195.30,127.93 195.80,127.32 196.30,126.71 196.80,126.13 197.30,125.56 197.80,125.01 198.30,124.66 198.80,124.44 199.30,124.25 199.80,124.07 200.30,123.90 200.80,123.74 201.30,123.60 201.80,123.48 202.30,123.36 202.80,123.26 203.30,123.17 203.80,123.09 204.30,123.03 204.80,122.98 205.30,122.94 205.80,122.91 206.30,122.90 206.80,122.89 207.30,122.80 207.80,122.65 208.30,122.51 208.80,122.38 209.30,122.26 209.80,122.16 210.30,122.06 210.80,121.98 211.30,121.91 211.80,121.85 212.30,121.79 212.80,121.75 213.30,121.73 213.80,121.71 214.30,121.70 214.80,121.70 215.30,121.75 215.80,121.78 216.30,121.82 216.80,121.86 217.30,121.92 217.80,121.99 218.30,122.07 218.80,122.16 219.30,122.26 219.80,122.37 220.30,122.49 220.80,122.63 221.30,122.77 221.80,122.93 222.30,123.30 222.80,123.68 223.30,124.08 223.80,124.49 224.30,124.90 224.80,125.33 225.30,125.77 225.80,126.23 226.30,126.69 226.80,127.17 227.30,127.66 227.80,128.16 228.30,128.68 228.80,129.21 229.30,129.75 229.80,130.31 230.30,130.75 230.80,131.13 231.30,131.52 231.80,131.93 232.30,132.35 232.80,132.79 233.30,133.24 233.80,133.71 234.30,134.19 234.80,134.69 235.30,135.21 235.80,135.74 236.30,136.29 236.80,136.86 237.30,137.44 237.80,138.05 238.30,138.67 238.80,139.32 239.30,139.98 239.80,140.67 240.30,141.38 240.80,142.11 241.30,142.80 241.80,143.47 242.30,144.17 242.80,144.89 243.30,145.64 243.80,146.42 244.30,147.23 244.80,148.07 245.30,148.94 245.80,149.85 246.30,150.79 246.80,151.77 247.30,152.79 247.80,153.85 248.30,154.97 248.80,156.14 249.30,157.37 249.80,158.65 250.30,159.99 250.80,161.38 251.30,162.84 251.80,164.37 252.30,165.97 252.80,167.66 253.30,169.43 253.80,171.30 254.30,173.27 254.80,175.36 255.30,177.58 255.80,179.95 256.30,182.47 256.80,185.19 257.30,188.11 257.80,191.27 258.30,194.72 258.80,198.50 259.30,202.69 259.80,207.38 260.30,212.69 260.80,218.82 261.30,226.03 261.80,234.78 262.30,245.87 262.80,260.87 263.30,283.21 263.80,310.60 263.85,311.09 264.30,291.80 264.80,268.41 265.30,252.46 265.80,240.73 266.30,231.52 266.80,223.95 267.30,217.53 267.80,211.96 268.30,207.04 268.80,202.64 269.30,198.66 269.80,195.03 270.30,191.68 270.80,188.59 271.30,185.71 271.80,183.03 272.30,180.50 272.80,178.13 273.30,175.88 273.80,173.75 274.30,171.73 274.80,169.81 275.30,167.98 275.80,166.22 276.30,164.55 276.80,162.94 277.30,161.39 277.80,159.91 278.30,158.48 278.80,157.11 279.30,155.78 279.80,154.50 280.30,153.26 280.80,152.07 281.30,150.91 281.80,149.79 282.30,148.70 282.80,147.65 283.30,146.63 283.80,145.64 284.30,144.68 284.80,143.80 285.30,142.98 285.80,142.19 286.30,141.42 286.80,140.67 287.30,139.94 287.80,139.24 288.30,138.56 288.80,137.90 289.30,137.26 289.80,136.64 290.30,136.03 290.80,135.45 291.30,134.88 291.80,134.33 292.30,133.94 292.80,133.56 293.30,133.20 293.80,132.85 294.30,132.52 294.80,132.20 295.30,131.89 295.80,131.60 296.30,131.33 296.80,131.06 297.30,130.81 297.80,130.58 298.30,130.35 298.80,130.14 299.30,129.91 299.80,129.68 300.30,129.45 300.80,129.24 301.30,129.04 301.80,128.85 302.30,128.68 302.80,128.51 303.30,128.35 303.80,128.21 304.30,128.07 304.80,127.95 305.30,127.83 305.80,127.73 306.30,127.63 306.80,127.55 307.30,127.47 307.80,127.40 308.30,127.35 308.80,127.30 309.30,127.26 309.80,127.23 310.30,127.21 310.80,127.20 311.30,127.20 311.80,127.21 312.30,127.02 312.80,126.85 313.30,126.68 313.80,126.53 314.30,126.38 314.80,126.24 315.30,126.11 315.80,125.99 316.30,125.87 316.80,125.77 317.30,125.67 317.80,125.59 318.30,125.50 318.80,125.43 319.30,125.37 319.80,125.32 320.30,125.34 320.80,125.42 321.30,125.50 321.80,125.59 322.30,125.69 322.80,125.81 323.30,125.92 323.80,126.05 324.30,126.19 324.80,126.33 325.30,126.49 325.80,126.65 326.30,126.83 326.80,127.01 327.30,127.20 327.80,127.38 328.30,127.56 328.80,127.75 329.30,127.96 329.80,128.17 330.30,128.40 330.80,128.63 331.30,128.87 331.80,129.12 332.30,129.39 332.80,129.66 333.30,129.95 333.80,130.24 334.30,130.55 334.80,130.86 335.30,131.19 335.80,131.53 336.30,131.88 336.80,132.27 337.30,132.68 337.80,133.10 338.30,133.53 338.80,133.98 339.30,134.43 339.80,134.90 340.30,135.39 340.80,135.89 341.30,136.40 341.80,136.92 342.30,137.46 342.80,138.02 343.30,138.59 343.80,139.17 344.30,139.78 344.80,140.33 345.30,140.86 345.80,141.40 346.30,141.96 346.80,142.55 347.30,143.15 347.80,143.77 348.30,144.41 348.80,145.07 349.30,145.75 349.80,146.46 350.30,147.18 350.80,147.94 351.30,148.77 351.80,149.64 352.30,150.54 352.80,151.46 353.30,152.42 353.80,153.41 354.30,154.43 354.80,155.49 355.30,156.58 355.80,157.71 356.30,158.88 356.80,160.10 357.30,161.36 357.80,162.67 358.30,164.03 358.80,165.44 359.30,166.92 359.80,168.46 360.30,170.07 360.80,171.75 361.30,173.51 361.80,175.36 362.30,177.31 362.80,179.36 363.30,181.52 363.80,183.81 364.30,186.25 364.80,188.85 365.30,191.63 365.80,194.62 366.30,197.85 366.80,201.36 367.30,205.20 367.80,209.44 368.30,214.16 368.80,219.48 369.30,225.56 369.80,232.65 370.30,241.16 370.80,251.56 371.30,264.49 371.80,279.61 372.30,288.76 372.30,288.76 372.80,277.41 373.30,260.58 373.80,247.09 374.30,236.56 374.80,228.05 375.30,220.97 375.80,214.93 376.30,209.68 376.80,205.03 377.30,200.88 377.80,197.13 378.30,193.71 378.80,190.58 379.30,187.69 379.80,185.01 380.30,182.52 380.80,180.19 381.30,178.00 381.80,175.94 382.30,174.00 382.80,172.17 383.30,170.43 383.80,168.78 384.30,167.21 384.80,165.72 385.30,164.30 385.80,162.99 386.30,161.78 386.80,160.63 387.30,159.53 387.80,158.48 388.30,157.47 388.80,156.51 389.30,155.60 389.80,154.72 390.30,153.88 390.80,153.07 391.30,152.30 391.80,151.57 392.30,150.86 392.80,150.18 393.30,149.54 393.80,148.92 394.30,148.32 394.80,147.71 395.30,147.09 395.80,146.50 396.30,145.92 396.80,145.38 397.30,144.85 397.80,144.34 398.30,143.85 398.80,143.39 399.30,142.94 399.80,142.51 400.30,142.10 400.80,141.71 401.30,141.33 401.80,140.97 402.30,140.45 402.80,139.95 403.30,139.47 403.80,139.00 404.30,138.54 404.80,138.10 405.30,137.68 405.80,137.26 406.30,136.87 406.80,136.49 407.30,136.12 407.80,135.76 408.30,135.42 408.80,135.09 409.30,134.77 409.80,134.47 410.30,134.18 410.80,133.90 411.30,133.66 411.80,133.43 412.30,133.21 412.80,133.00 413.30,132.81 413.80,132.63 414.30,132.46 414.80,132.30 415.30,132.16 415.80,132.02 416.30,131.90 416.80,131.79 417.30,131.69 417.80,131.60 418.30,131.53 418.80,131.47 419.30,131.48 419.80,131.48 420.30,131.51 420.80,131.54 421.30,131.59 421.80,131.65 422.30,131.72 422.80,131.80 423.30,131.90 423.80,132.00 424.30,132.12 424.80,132.25 425.30,132.39 425.80,132.55 426.30,132.71 426.80,132.89 427.30,133.08 427.80,133.28 428.30,133.49 428.80,133.72 429.30,133.96 429.80,134.21 430.30,134.42 430.80,134.59 431.30,134.78 431.80,134.99 432.30,135.21 432.80,135.44 433.30,135.69 433.80,135.95 434.30,136.22 434.80,136.51 435.30,136.82 435.80,137.14 436.30,137.47 436.80,137.82 437.30,138.19 437.80,138.58 438.30,138.98 438.80,139.40 439.30,139.84 439.80,140.29 440.30,140.77 440.80,141.26 441.30,141.78 441.80,142.31 442.30,142.87 442.80,143.44 443.30,144.02 443.80,144.61 444.30,145.24 444.80,145.88 445.30,146.55 445.80,147.25 446.30,147.98 446.80,148.74 447.30,149.53 447.80,150.35 448.30,151.20 448.80,152.09 449.30,153.01 449.80,153.98 450.30,154.98 450.80,156.20 451.30,157.50 451.80,158.84 452.30,160.24 452.80,161.70 453.30,163.21 453.80,164.79 454.30,166.43 454.80,168.15 455.30,169.94 455.80,171.82 456.30,173.79 456.80,175.86 457.30,178.05 457.80,180.35 458.30,182.80 458.80,185.39 459.30,188.16 459.80,190.85 460.30,193.22 460.80,195.85 461.30,198.78 461.80,202.09 462.30,205.85 462.80,210.15 463.30,215.14 463.80,221.04 464.30,228.14 464.80,236.91 465.30,248.03 465.80,262.10 466.30,275.92 466.50,277.83 466.80,273.63 467.30,257.61 467.80,242.46 468.30,230.89 468.80,221.62 469.30,213.95 469.80,207.44 470.30,201.80 470.80,196.83 471.30,192.39 471.80,188.39 472.30,184.74 472.80,181.40 473.30,178.31 473.80,175.45 474.30,172.77 474.80,170.27 475.30,167.92 475.80,165.80 476.30,163.86 476.80,162.02 477.30,160.29 477.80,158.65 478.30,157.09 478.80,155.61 479.30,154.20 479.80,152.86 480.30,151.58 480.80,150.36 481.30,149.19 481.80,148.07 482.30,147.00 482.80,145.98 483.30,145.00 483.80,144.06 484.30,143.07 484.80,141.77 485.30,140.51 485.80,139.29 486.30,138.09 486.80,136.93 487.30,135.79 487.80,134.69 488.30,133.61 488.80,132.55 489.30,131.52 489.80,130.52 490.30,129.53 490.80,128.57 491.30,127.64 491.80,126.72 492.30,125.82 492.80,124.94 493.30,124.08 493.80,123.24 494.30,122.42 494.80,121.61 495.30,120.82 495.80,120.05 496.30,119.30 496.80,118.56 497.30,117.84 497.80,117.13 498.30,116.44 498.80,115.77 499.30,115.11 499.80,114.49 500.30,113.89 500.80,113.32 501.30,112.75 501.80,112.20 502.30,111.67 502.80,111.14 503.30,110.63 503.80,110.14 504.30,109.65 504.80,109.18 505.30,108.72 505.80,108.27 506.30,107.84 506.80,107.42 507.30,107.01 507.80,106.61 508.30,106.19 508.80,105.66 509.30,105.14 509.80,104.64 510.30,104.14 510.80,103.66 511.30,103.19 511.80,102.73 512.30,102.28 512.80,101.84 513.30,101.42 513.80,101.00 514.30,100.60 514.80,100.21 515.30,99.83 515.80,99.46 516.30,99.11 516.80,98.76 517.30,98.40 517.80,98.05 518.30,97.71 518.80,97.38 519.30,97.06 519.80,96.75 520.30,96.45 520.80,96.17 521.30,95.90 521.80,95.64 522.30,95.39 522.80,95.16 523.30,94.94 523.80,94.73 524.30,94.53 524.80,94.30 525.30,94.00 525.80,93.71 526.30,93.44 526.80,93.19 527.30,92.94 527.80,92.71 528.30,92.50 528.80,92.30 529.30,92.11 529.80,92.29 530.30,92.71" fill="none" stroke="#18a355" stroke-width="2.4" stroke-linejoin="round"/>
<g fill="#18a355"><path d="M76.30 124.03L81.20 132.43L71.40 132.43Z"/><path d="M84.46 110.31L89.36 118.71L79.56 118.71Z"/><path d="M92.61 98.73L97.51 107.13L87.71 107.13Z"/><path d="M100.77 95.41L105.67 103.81L95.87 103.81Z"/><path d="M108.92 95.54L113.82 103.94L104.02 103.94Z"/><path d="M117.08 97.40L121.98 105.80L112.18 105.80Z"/><path d="M125.24 102.55L130.14 110.95L120.34 110.95Z"/><path d="M133.39 110.53L138.29 118.93L128.49 118.93Z"/><path d="M141.55 119.59L146.45 127.99L136.65 127.99Z"/><path d="M149.70 136.97L154.60 145.37L144.80 145.37Z"/><path d="M157.86 164.15L162.76 172.55L152.96 172.55Z"/><path d="M166.02 241.59L170.92 249.99L161.12 249.99Z"/><path d="M174.17 174.13L179.07 182.53L169.27 182.53Z"/><path d="M182.33 147.21L187.23 155.61L177.43 155.61Z"/><path d="M190.48 130.41L195.38 138.81L185.58 138.81Z"/><path d="M198.64 119.51L203.54 127.91L193.74 127.91Z"/><path d="M206.80 117.89L211.70 126.29L201.90 126.29Z"/><path d="M214.95 116.71L219.85 125.11L210.05 125.11Z"/><path d="M223.11 118.93L228.01 127.33L218.21 127.33Z"/><path d="M231.26 126.49L236.16 134.89L226.36 134.89Z"/><path d="M239.42 135.15L244.32 143.55L234.52 143.55Z"/><path d="M247.58 148.37L252.48 156.77L242.68 156.77Z"/><path d="M255.73 174.62L260.63 183.02L250.83 183.02Z"/><path d="M263.89 305.86L268.79 314.26L258.99 314.26Z"/><path d="M272.04 176.77L276.94 185.17L267.14 185.17Z"/><path d="M280.20 148.51L285.10 156.91L275.30 156.91Z"/><path d="M288.36 133.49L293.26 141.89L283.46 141.89Z"/><path d="M296.51 126.21L301.41 134.61L291.61 134.61Z"/><path d="M304.67 122.98L309.57 131.38L299.77 131.38Z"/><path d="M312.82 121.84L317.72 130.24L307.92 130.24Z"/><path d="M320.98 120.45L325.88 128.85L316.08 128.85Z"/><path d="M329.14 122.89L334.04 131.29L324.24 131.29Z"/><path d="M337.29 127.67L342.19 136.07L332.39 136.07Z"/><path d="M345.45 136.02L350.35 144.42L340.55 144.42Z"/><path d="M353.60 148.02L358.50 156.42L348.70 156.42Z"/><path d="M361.76 170.21L366.66 178.61L356.86 178.61Z"/><path d="M369.92 229.47L374.82 237.87L365.02 237.87Z"/><path d="M378.07 190.23L382.97 198.63L373.17 198.63Z"/><path d="M386.23 156.95L391.13 165.35L381.33 165.35Z"/><path d="M394.38 143.22L399.28 151.62L389.48 151.62Z"/><path d="M402.54 135.21L407.44 143.61L397.64 143.61Z"/><path d="M410.70 128.96L415.60 137.36L405.80 137.36Z"/><path d="M418.85 126.47L423.75 134.87L413.95 134.87Z"/><path d="M427.01 127.97L431.91 136.37L422.11 136.37Z"/><path d="M435.16 131.73L440.06 140.13L430.26 140.13Z"/><path d="M443.32 139.04L448.22 147.44L438.42 147.44Z"/><path d="M451.48 152.96L456.38 161.36L446.58 161.36Z"/><path d="M459.63 185.11L464.53 193.51L454.73 193.51Z"/><path d="M467.79 237.78L472.69 246.18L462.89 246.18Z"/><path d="M475.94 160.23L480.84 168.63L471.04 168.63Z"/><path d="M484.10 138.51L489.00 146.91L479.20 146.91Z"/><path d="M492.26 120.90L497.16 129.30L487.36 129.30Z"/><path d="M500.41 108.76L505.31 117.16L495.51 117.16Z"/><path d="M508.57 100.90L513.47 109.30L503.67 109.30Z"/><path d="M516.72 93.82L521.62 102.22L511.82 102.22Z"/><path d="M524.88 89.25L529.78 97.65L519.98 97.65Z"/></g>
<path d="M75.30,94.48 75.80,94.21 76.30,93.95 76.80,94.03 77.30,94.12 77.80,94.22 78.30,94.34 78.80,94.47 79.30,94.61 79.80,94.77 80.30,94.93 80.80,95.11 81.30,95.30 81.80,95.50 82.30,95.72 82.80,95.94 83.30,96.18 83.80,96.43 84.30,96.69 84.80,96.90 85.30,97.08 85.80,97.28 86.30,97.49 86.80,97.70 87.30,97.93 87.80,98.17 88.30,98.43 88.80,98.69 89.30,98.96 89.80,99.25 90.30,99.55 90.80,99.86 91.30,100.18 91.80,100.51 92.30,100.86 92.80,101.22 93.30,101.58 93.80,101.97 94.30,102.36 94.80,102.76 95.30,103.18 95.80,103.61 96.30,104.05 96.80,104.50 97.30,104.97 97.80,105.45 98.30,105.95 98.80,106.45 99.30,106.97 99.80,107.51 100.30,108.02 100.80,108.54 101.30,109.06 101.80,109.61 102.30,110.16 102.80,110.73 103.30,111.32 103.80,111.92 104.30,112.54 104.80,113.18 105.30,113.83 105.80,114.50 106.30,115.18 106.80,115.91 107.30,116.66 107.80,117.42 108.30,118.21 108.80,119.01 109.30,119.84 109.80,120.69 110.30,121.56 110.80,122.45 111.30,122.93 111.80,123.43 112.30,123.96 112.80,124.52 113.30,125.10 113.80,125.72 114.30,126.36 114.80,127.03 115.30,127.73 115.80,128.47 116.30,129.24 116.80,130.05 117.30,131.05 117.80,132.27 118.30,133.53 118.80,134.84 119.30,136.20 119.80,137.60 120.30,139.07 120.80,140.59 121.30,142.18 121.80,143.83 122.30,145.56 122.80,147.37 123.30,149.26 123.80,151.24 124.30,153.33 124.80,155.53 125.30,157.87 125.80,160.42 126.30,163.13 126.80,166.02 127.30,169.11 127.80,172.43 128.30,176.02 128.80,179.92 129.30,184.21 129.80,188.96 130.30,194.28 130.80,200.34 131.30,207.37 131.80,215.75 132.30,226.07 132.80,239.46 133.30,257.92 133.80,281.22 134.00,285.43 134.30,277.01 134.80,254.15 135.30,237.31 135.80,225.04 136.30,215.55 136.80,207.85 137.30,201.41 137.80,195.88 138.30,191.04 138.80,186.76 139.30,182.92 139.80,179.45 140.30,176.28 140.80,173.37 141.30,170.69 141.80,168.15 142.30,165.74 142.80,163.48 143.30,161.36 143.80,159.36 144.30,157.48 144.80,155.69 145.30,153.99 145.80,152.38 146.30,150.85 146.80,149.39 147.30,147.99 147.80,146.66 148.30,145.39 148.80,144.17 149.30,143.00 149.80,141.88 150.30,140.84 150.80,139.87 151.30,138.94 151.80,138.05 152.30,137.19 152.80,136.37 153.30,135.58 153.80,134.83 154.30,134.10 154.80,133.41 155.30,132.74 155.80,132.10 156.30,131.48 156.80,130.89 157.30,130.33 157.80,129.78 158.30,129.29 158.80,128.84 159.30,128.41 159.80,128.00 160.30,127.61 160.80,127.24 161.30,126.89 161.80,126.55 162.30,126.24 162.80,125.94 163.30,125.66 163.80,125.39 164.30,125.14 164.80,124.91 165.30,124.64 165.80,124.36 166.30,124.08 166.80,123.82 167.30,123.58 167.80,123.35 168.30,123.13 168.80,122.93 169.30,122.75 169.80,122.57 170.30,122.41 170.80,122.26 171.30,122.13 171.80,122.00 172.30,121.89 172.80,121.80 173.30,121.71 173.80,121.64 174.30,121.58 174.80,121.53 175.30,121.49 175.80,121.47 176.30,121.46 176.80,121.45 177.30,121.46 177.80,121.49 178.30,121.49 178.80,121.49 179.30,121.51 179.80,121.53 180.30,121.56 180.80,121.61 181.30,121.67 181.80,121.74 182.30,121.82 182.80,121.91 183.30,122.02 183.80,122.13 184.30,122.26 184.80,122.40 185.30,122.57 185.80,122.76 186.30,122.96 186.80,123.18 187.30,123.40 187.80,123.64 188.30,123.89 188.80,124.16 189.30,124.43 189.80,124.72 190.30,125.02 190.80,125.34 191.30,125.66 191.80,126.00 192.30,126.35 192.80,126.72 193.30,127.10 193.80,127.49 194.30,127.90 194.80,128.31 195.30,128.75 195.80,129.20 196.30,129.66 196.80,130.14 197.30,130.64 197.80,131.21 198.30,131.79 198.80,132.39 199.30,133.00 199.80,133.63 200.30,134.28 200.80,134.95 201.30,135.63 201.80,136.34 202.30,137.06 202.80,137.80 203.30,138.56 203.80,139.35 204.30,140.15 204.80,140.98 205.30,141.83 205.80,142.71 206.30,143.57 206.80,144.45 207.30,145.36 207.80,146.30 208.30,147.26 208.80,148.26 209.30,149.29 209.80,150.35 210.30,151.44 210.80,152.57 211.30,153.74 211.80,154.95 212.30,156.20 212.80,157.49 213.30,158.79 213.80,159.98 214.30,161.21 214.80,162.50 215.30,163.86 215.80,165.28 216.30,166.77 216.80,168.34 217.30,169.98 217.80,171.72 218.30,173.56 218.80,175.51 219.30,177.57 219.80,179.77 220.30,182.12 220.80,184.63 221.30,187.33 221.80,190.25 222.30,193.42 222.80,196.89 223.30,200.71 223.80,204.95 224.30,209.71 224.80,215.15 225.30,221.44 225.80,228.93 226.30,238.13 226.80,250.02 227.30,266.74 227.80,294.07 228.25,327.72 228.30,326.92 228.80,291.40 229.30,267.36 229.80,251.80 230.30,240.39 230.80,231.40 231.30,223.98 231.80,217.66 232.30,212.16 232.80,207.30 233.30,202.93 233.80,198.96 234.30,195.34 234.80,191.99 235.30,188.90 235.80,186.01 236.30,183.30 236.80,180.76 237.30,178.36 237.80,176.09 238.30,173.94 238.80,171.89 239.30,169.94 239.80,168.08 240.30,166.29 240.80,164.58 241.30,162.94 241.80,161.36 242.30,159.84 242.80,158.38 243.30,156.97 243.80,155.60 244.30,154.29 244.80,153.01 245.30,151.78 245.80,150.58 246.30,149.42 246.80,148.30 247.30,147.21 247.80,146.15 248.30,145.16 248.80,144.23 249.30,143.32 249.80,142.44 250.30,141.58 250.80,140.75 251.30,139.95 251.80,139.16 252.30,138.40 252.80,137.66 253.30,136.94 253.80,136.23 254.30,135.76 254.80,135.31 255.30,134.87 255.80,134.45 256.30,134.05 256.80,133.66 257.30,133.29 257.80,132.94 258.30,132.60 258.80,132.27 259.30,131.96 259.80,131.67 260.30,131.39 260.80,131.12 261.30,130.87 261.80,130.63 262.30,130.32 262.80,129.98 263.30,129.65 263.80,129.34 264.30,129.03 264.80,128.74 265.30,128.46 265.80,128.19 266.30,127.93 266.80,127.68 267.30,127.45 267.80,127.22 268.30,127.01 268.80,126.80 269.30,126.61 269.80,126.42 270.30,126.25 270.80,126.08 271.30,125.93 271.80,125.78 272.30,125.65 272.80,125.52 273.30,125.41 273.80,125.30 274.30,125.20 274.80,125.12 275.30,125.04 275.80,124.97 276.30,124.91 276.80,124.86 277.30,124.82 277.80,124.78 278.30,124.76 278.80,124.75 279.30,124.74 279.80,124.74 280.30,124.76 280.80,124.78 281.30,124.81 281.80,124.85 282.30,124.89 282.80,124.95 283.30,125.02 283.80,125.09 284.30,125.17 284.80,125.27 285.30,125.33 285.80,125.39 286.30,125.45 286.80,125.52 287.30,125.59 287.80,125.68 288.30,125.78 288.80,125.89 289.30,126.00 289.80,126.13 290.30,126.26 290.80,126.41 291.30,126.56 291.80,126.72 292.30,126.90 292.80,127.08 293.30,127.27 293.80,127.47 294.30,127.69 294.80,127.91 295.30,128.14 295.80,128.39 296.30,128.64 296.80,128.91 297.30,129.18 297.80,129.47 298.30,129.77 298.80,130.08 299.30,130.40 299.80,130.73 300.30,131.08 300.80,131.44 301.30,131.81 301.80,132.19 302.30,132.58 302.80,133.00 303.30,133.44 303.80,133.90 304.30,134.37 304.80,134.85 305.30,135.35 305.80,135.87 306.30,136.40 306.80,136.95 307.30,137.51 307.80,138.09 308.30,138.68 308.80,139.30 309.30,139.93 309.80,140.58 310.30,141.25 310.80,141.94 311.30,142.65 311.80,143.39 312.30,144.14 312.80,144.92 313.30,145.72 313.80,146.55 314.30,147.41 314.80,148.30 315.30,149.22 315.80,150.17 316.30,151.15 316.80,152.16 317.30,153.20 317.80,154.28 318.30,155.40 318.80,156.55 319.30,157.75 319.80,158.99 320.30,160.28 320.80,161.62 321.30,162.98 321.80,164.40 322.30,165.88 322.80,167.42 323.30,169.04 323.80,170.73 324.30,172.50 324.80,174.36 325.30,176.32 325.80,178.39 326.30,180.58 326.80,182.90 327.30,185.37 327.80,188.01 328.30,190.84 328.80,193.89 329.30,197.20 329.80,200.81 330.30,204.78 330.80,209.19 331.30,214.12 331.80,219.74 332.30,226.26 332.80,234.00 333.30,243.53 333.80,255.90 334.30,273.45 334.80,302.78 335.20,333.42 335.30,329.22 335.80,287.77 336.30,264.41 336.80,249.35 337.30,238.28 337.80,229.55 338.30,222.35 338.80,216.22 339.30,210.89 339.80,206.18 340.30,201.96 340.80,198.14 341.30,194.65 341.80,191.44 342.30,188.47 342.80,185.71 343.30,183.13 343.80,180.71 344.30,178.44 344.80,176.29 345.30,174.26 345.80,172.33 346.30,170.49 346.80,168.75 347.30,167.08 347.80,165.49 348.30,163.96 348.80,162.50 349.30,161.10 349.80,159.75 350.30,158.45 350.80,157.21 351.30,156.01 351.80,154.85 352.30,153.73 352.80,152.68 353.30,151.80 353.80,150.96 354.30,150.14 354.80,149.36 355.30,148.61 355.80,147.89 356.30,147.19 356.80,146.53 357.30,145.88 357.80,145.27 358.30,144.67 358.80,144.10 359.30,143.55 359.80,143.03 360.30,142.52 360.80,142.03 361.30,141.47 361.80,140.90 362.30,140.35 362.80,139.82 363.30,139.31 363.80,138.81 364.30,138.33 364.80,137.86 365.30,137.41 365.80,136.98 366.30,136.56 366.80,136.15 367.30,135.76 367.80,135.28 368.30,134.81 368.80,134.36 369.30,133.92 369.80,133.49 370.30,133.08 370.80,132.67 371.30,132.28 371.80,131.90 372.30,131.54 372.80,131.18 373.30,130.84 373.80,130.50 374.30,130.18 374.80,129.91 375.30,129.67 375.80,129.44 376.30,129.23 376.80,129.02 377.30,128.82 377.80,128.64 378.30,128.46 378.80,128.30 379.30,128.14 379.80,127.99 380.30,127.86 380.80,127.73 381.30,127.62 381.80,127.51 382.30,127.41 382.80,127.33 383.30,127.25 383.80,127.17 384.30,127.10 384.80,127.03 385.30,126.97 385.80,126.92 386.30,126.88 386.80,126.85 387.30,126.82 387.80,126.81 388.30,126.81 388.80,126.82 389.30,126.84 389.80,126.86 390.30,126.90 390.80,126.94 391.30,127.00 391.80,127.06 392.30,127.14 392.80,127.22 393.30,127.29 393.80,127.37 394.30,127.46 394.80,127.56 395.30,127.67 395.80,127.79 396.30,127.92 396.80,128.06 397.30,128.21 397.80,128.37 398.30,128.55 398.80,128.73 399.30,128.92 399.80,129.13 400.30,129.34 400.80,129.57 401.30,129.80 401.80,130.05 402.30,130.28 402.80,130.52 403.30,130.77 403.80,131.04 404.30,131.31 404.80,131.60 405.30,131.90 405.80,132.22 406.30,132.55 406.80,132.89 407.30,133.24 407.80,133.61 408.30,133.99 408.80,134.39 409.30,134.80 409.80,135.23 410.30,135.67 410.80,136.13 411.30,136.75 411.80,137.43 412.30,138.12 412.80,138.83 413.30,139.56 413.80,140.31 414.30,141.07 414.80,141.86 415.30,142.67 415.80,143.50 416.30,144.35 416.80,145.22 417.30,146.12 417.80,147.01 418.30,147.86 418.80,148.74 419.30,149.65 419.80,150.58 420.30,151.55 420.80,152.55 421.30,153.59 421.80,154.66 422.30,155.76 422.80,156.91 423.30,158.10 423.80,159.33 424.30,160.61 424.80,161.94 425.30,163.33 425.80,164.76 426.30,166.27 426.80,167.83 427.30,166.52 427.80,166.18 428.30,167.91 428.80,169.73 429.30,171.65 429.80,173.68 430.30,175.83 430.80,178.12 431.30,180.55 431.80,183.15 432.30,185.95 432.80,188.96 433.30,192.24 433.80,195.81 434.30,199.74 434.80,204.10 435.30,208.99 435.80,214.56 436.30,221.01 436.80,228.65 437.30,237.99 437.80,249.89 438.30,265.87 438.80,286.99 439.15,296.36 439.30,294.28 439.80,273.73 440.30,255.47 440.80,242.04 441.30,231.69 441.80,223.34 442.30,216.34 442.80,210.34 443.30,205.08 443.80,200.42 444.30,196.23 444.80,192.43 445.30,188.95 445.80,185.74 446.30,182.76 446.80,179.98 447.30,177.39 447.80,174.95 448.30,172.65 448.80,170.48 449.30,168.42 449.80,166.46 450.30,164.60 450.80,162.80 451.30,161.07 451.80,159.42 452.30,157.83 452.80,156.31 453.30,154.84 453.80,153.43 454.30,152.08 454.80,150.76 455.30,149.50 455.80,148.28 456.30,147.09 456.80,145.95 457.30,144.84 457.80,143.77 458.30,142.76 458.80,141.81 459.30,140.89 459.80,139.99 460.30,139.12 460.80,138.28 461.30,137.47 461.80,136.68 462.30,135.91 462.80,135.16 463.30,134.44 463.80,133.74 464.30,133.06 464.80,132.40 465.30,131.75 465.80,131.13 466.30,130.52 466.80,129.94 467.30,129.39 467.80,128.85 468.30,128.33 468.80,127.83 469.30,127.34 469.80,126.87 470.30,126.41 470.80,125.97 471.30,125.54 471.80,125.12 472.30,124.72 472.80,124.33 473.30,123.96 473.80,123.59 474.30,123.24 474.80,122.91 475.30,122.58 475.80,122.20 476.30,121.78 476.80,121.38 477.30,120.99 477.80,120.61 478.30,120.24 478.80,119.88 479.30,119.53 479.80,119.19 480.30,118.86 480.80,118.55 481.30,118.24 481.80,117.95 482.30,117.66 482.80,117.39 483.30,117.12 483.80,116.85 484.30,116.59 484.80,116.35 485.30,116.11 485.80,115.88 486.30,115.67 486.80,115.46 487.30,115.26 487.80,115.07 488.30,114.89 488.80,114.72 489.30,114.56 489.80,114.41 490.30,114.27 490.80,114.14 491.30,114.01 491.80,113.90 492.30,113.77 492.80,113.65 493.30,113.54 493.80,113.44 494.30,113.34 494.80,113.26 495.30,113.19 495.80,113.12 496.30,113.07 496.80,113.02 497.30,112.99 497.80,112.96 498.30,112.95 498.80,112.94 499.30,112.95 499.80,112.90 500.30,112.82 500.80,112.74 501.30,112.68 501.80,112.63 502.30,112.59 502.80,112.56 503.30,112.54 503.80,112.53 504.30,112.54 504.80,112.55 505.30,112.58 505.80,112.61 506.30,112.66 506.80,112.72 507.30,112.79 507.80,112.88 508.30,112.94 508.80,112.88 509.30,112.83 509.80,112.80 510.30,112.78 510.80,112.77 511.30,112.78 511.80,112.80 512.30,112.84 512.80,112.89 513.30,112.95 513.80,113.03 514.30,113.13 514.80,113.24 515.30,113.37 515.80,113.52 516.30,113.68 516.80,113.86 517.30,113.99 517.80,114.12 518.30,114.27 518.80,114.44 519.30,114.63 519.80,114.85 520.30,115.08 520.80,115.34 521.30,115.63 521.80,115.93 522.30,116.27 522.80,116.63 523.30,117.02 523.80,117.44 524.30,117.89 524.80,118.28 525.30,118.55 525.80,118.85 526.30,119.20 526.80,119.58 527.30,120.01 527.80,120.48 528.30,121.00 528.80,121.57 529.30,122.19 529.80,123.32 530.30,124.82" fill="none" stroke="#a05ae6" stroke-width="2.4" stroke-linejoin="round"/>
<g fill="#a05ae6"><path d="M76.30 98.95L81.20 90.55L71.40 90.55Z"/><path d="M84.46 101.77L89.36 93.37L79.56 93.37Z"/><path d="M92.61 106.08L97.51 97.68L87.71 97.68Z"/><path d="M100.77 113.50L105.67 105.10L95.87 105.10Z"/><path d="M108.92 124.22L113.82 115.82L104.02 115.82Z"/><path d="M117.08 135.52L121.98 127.12L112.18 127.12Z"/><path d="M125.24 162.56L130.14 154.16L120.34 154.16Z"/><path d="M133.39 267.06L138.29 258.66L128.49 258.66Z"/><path d="M141.55 174.43L146.45 166.03L136.65 166.03Z"/><path d="M149.70 147.09L154.60 138.69L144.80 138.69Z"/><path d="M157.86 134.72L162.76 126.32L152.96 126.32Z"/><path d="M166.02 129.24L170.92 120.84L161.12 120.84Z"/><path d="M174.17 126.59L179.07 118.19L169.27 118.19Z"/><path d="M182.33 126.83L187.23 118.43L177.43 118.43Z"/><path d="M190.48 130.14L195.38 121.74L185.58 121.74Z"/><path d="M198.64 137.20L203.54 128.80L193.74 128.80Z"/><path d="M206.80 149.45L211.70 141.05L201.90 141.05Z"/><path d="M214.95 167.91L219.85 159.51L210.05 159.51Z"/><path d="M223.11 204.19L228.01 195.79L218.21 195.79Z"/><path d="M231.26 229.47L236.16 221.07L226.36 221.07Z"/><path d="M239.42 174.49L244.32 166.09L234.52 166.09Z"/><path d="M247.58 151.62L252.48 143.22L242.68 143.22Z"/><path d="M255.73 139.51L260.63 131.11L250.83 131.11Z"/><path d="M263.89 134.28L268.79 125.88L258.99 125.88Z"/><path d="M272.04 130.72L276.94 122.32L267.14 122.32Z"/><path d="M280.20 129.75L285.10 121.35L275.30 121.35Z"/><path d="M288.36 130.79L293.26 122.39L283.46 122.39Z"/><path d="M296.51 133.75L301.41 125.35L291.61 125.35Z"/><path d="M304.67 139.72L309.57 131.32L299.77 131.32Z"/><path d="M312.82 149.96L317.72 141.56L307.92 141.56Z"/><path d="M320.98 167.10L325.88 158.70L316.08 158.70Z"/><path d="M329.14 201.08L334.04 192.68L324.24 192.68Z"/><path d="M337.29 243.44L342.19 235.04L332.39 235.04Z"/><path d="M345.45 178.68L350.35 170.28L340.55 170.28Z"/><path d="M353.60 156.28L358.50 147.88L348.70 147.88Z"/><path d="M361.76 145.95L366.66 137.55L356.86 137.55Z"/><path d="M369.92 138.39L374.82 129.99L365.02 129.99Z"/><path d="M378.07 133.54L382.97 125.14L373.17 125.14Z"/><path d="M386.23 131.89L391.13 123.49L381.33 123.49Z"/><path d="M394.38 132.47L399.28 124.07L389.48 124.07Z"/><path d="M402.54 135.39L407.44 126.99L397.64 126.99Z"/><path d="M410.70 141.04L415.60 132.64L405.80 132.64Z"/><path d="M418.85 153.83L423.75 145.43L413.95 145.43Z"/><path d="M427.01 173.50L431.91 165.10L422.11 165.10Z"/><path d="M435.16 212.60L440.06 204.20L430.26 204.20Z"/><path d="M443.32 209.89L448.22 201.49L438.42 201.49Z"/><path d="M451.48 165.48L456.38 157.08L446.58 157.08Z"/><path d="M459.63 145.29L464.53 136.89L454.73 136.89Z"/><path d="M467.79 133.87L472.69 125.47L462.89 125.47Z"/><path d="M475.94 127.08L480.84 118.68L471.04 118.68Z"/><path d="M484.10 121.70L489.00 113.30L479.20 113.30Z"/><path d="M492.26 118.78L497.16 110.38L487.36 110.38Z"/><path d="M500.41 117.80L505.31 109.40L495.51 109.40Z"/><path d="M508.57 117.90L513.47 109.50L503.67 109.50Z"/><path d="M516.72 118.83L521.62 110.43L511.82 110.43Z"/><path d="M524.88 123.32L529.78 114.92L519.98 114.92Z"/></g>
<path d="M75.30,156.22 75.80,158.84 76.30,161.60 76.80,164.55 77.30,167.74 77.80,171.23 78.30,175.06 78.80,179.31 79.30,184.08 79.80,189.51 80.30,195.79 80.80,203.23 81.30,212.33 81.80,223.97 82.30,239.96 82.80,263.94 83.25,284.96 83.30,284.51 83.80,258.15 84.30,235.94 84.80,220.98 85.30,209.94 85.80,201.23 86.30,194.05 86.80,187.96 87.30,182.68 87.80,178.02 88.30,173.86 88.80,170.11 89.30,166.69 89.80,163.55 90.30,160.65 90.80,157.97 91.30,155.47 91.80,153.13 92.30,150.93 92.80,148.79 93.30,146.76 93.80,144.83 94.30,143.00 94.80,141.26 95.30,139.59 95.80,138.01 96.30,136.49 96.80,135.03 97.30,133.63 97.80,132.29 98.30,131.01 98.80,129.77 99.30,128.57 99.80,127.42 100.30,126.49 100.80,125.64 101.30,124.83 101.80,124.05 102.30,123.31 102.80,122.60 103.30,121.91 103.80,121.26 104.30,120.64 104.80,120.04 105.30,119.47 105.80,118.92 106.30,118.40 106.80,117.90 107.30,117.42 107.80,116.96 108.30,116.53 108.80,116.05 109.30,115.50 109.80,114.97 110.30,114.45 110.80,113.96 111.30,113.48 111.80,113.02 112.30,112.57 112.80,112.14 113.30,111.73 113.80,111.33 114.30,110.95 114.80,110.58 115.30,110.23 115.80,109.89 116.30,109.57 116.80,109.34 117.30,109.11 117.80,108.90 118.30,108.70 118.80,108.51 119.30,108.34 119.80,108.17 120.30,108.02 120.80,107.89 121.30,107.76 121.80,107.64 122.30,107.54 122.80,107.45 123.30,107.36 123.80,107.29 124.30,107.23 124.80,107.18 125.30,107.15 125.80,107.12 126.30,107.10 126.80,107.09 127.30,107.10 127.80,107.11 128.30,107.13 128.80,107.17 129.30,107.21 129.80,107.26 130.30,107.33 130.80,107.40 131.30,107.48 131.80,107.58 132.30,107.68 132.80,107.76 133.30,107.82 133.80,107.90 134.30,107.98 134.80,108.06 135.30,108.16 135.80,108.28 136.30,108.40 136.80,108.53 137.30,108.67 137.80,108.82 138.30,108.99 138.80,109.16 139.30,109.34 139.80,109.53 140.30,109.73 140.80,109.94 141.30,110.15 141.80,110.38 142.30,110.62 142.80,110.86 143.30,111.12 143.80,111.39 144.30,111.67 144.80,111.96 145.30,112.26 145.80,112.57 146.30,112.89 146.80,113.23 147.30,113.57 147.80,113.93 148.30,114.30 148.80,114.68 149.30,115.08 149.80,115.51 150.30,115.96 150.80,116.41 151.30,116.88 151.80,117.36 152.30,117.85 152.80,118.36 153.30,118.88 153.80,119.41 154.30,119.96 154.80,120.52 155.30,121.10 155.80,121.69 156.30,122.30 156.80,122.87 157.30,123.45 157.80,124.04 158.30,124.65 158.80,125.28 159.30,125.92 159.80,126.59 160.30,127.27 160.80,127.98 161.30,128.70 161.80,129.45 162.30,130.21 162.80,131.00 163.30,131.82 163.80,132.65 164.30,133.52 164.80,134.41 165.30,135.33 165.80,136.40 166.30,137.60 166.80,138.82 167.30,140.08 167.80,141.37 168.30,142.70 168.80,144.07 169.30,145.48 169.80,146.93 170.30,148.42 170.80,149.96 171.30,151.55 171.80,153.20 172.30,154.49 172.80,155.84 173.30,157.26 173.80,158.76 174.30,160.32 174.80,161.98 175.30,163.72 175.80,165.57 176.30,167.53 176.80,169.61 177.30,171.82 177.80,174.19 178.30,176.73 178.80,179.46 179.30,182.41 179.80,185.62 180.30,189.12 180.80,192.98 181.30,197.26 181.80,202.05 182.30,207.46 182.80,213.79 183.30,221.07 183.80,229.51 184.30,239.10 184.80,248.97 185.30,255.53 185.45,255.97 185.80,253.62 186.30,244.90 186.80,234.80 187.30,225.60 187.80,217.64 188.30,210.77 188.80,204.78 189.30,199.50 189.80,194.79 190.30,190.56 190.80,186.66 191.30,183.06 191.80,179.74 192.30,176.66 192.80,173.79 193.30,171.10 193.80,168.58 194.30,166.20 194.80,163.95 195.30,161.82 195.80,159.79 196.30,157.87 196.80,156.03 197.30,154.59 197.80,154.54 198.30,154.56 198.80,154.17 199.30,152.80 199.80,151.49 200.30,150.24 200.80,149.03 201.30,147.87 201.80,146.76 202.30,145.69 202.80,144.65 203.30,143.66 203.80,142.70 204.30,141.77 204.80,140.88 205.30,140.01 205.80,139.18 206.30,138.40 206.80,137.66 207.30,136.94 207.80,136.25 208.30,135.58 208.80,134.94 209.30,134.32 209.80,133.72 210.30,133.14 210.80,132.58 211.30,132.04 211.80,131.52 212.30,131.02 212.80,130.54 213.30,130.07 213.80,129.63 214.30,129.25 214.80,128.89 215.30,128.56 215.80,128.24 216.30,127.93 216.80,127.64 217.30,127.37 217.80,127.10 218.30,126.86 218.80,126.62 219.30,126.40 219.80,126.20 220.30,126.00 220.80,125.82 221.30,125.65 221.80,125.50 222.30,125.35 222.80,125.14 223.30,124.82 223.80,124.52 224.30,124.23 224.80,123.95 225.30,123.67 225.80,123.42 226.30,123.17 226.80,122.93 227.30,122.70 227.80,122.49 228.30,122.28 228.80,122.09 229.30,121.91 229.80,121.73 230.30,121.57 230.80,121.46 231.30,121.44 231.80,121.43 232.30,121.42 232.80,121.43 233.30,121.44 233.80,121.47 234.30,121.51 234.80,121.55 235.30,121.61 235.80,121.70 236.30,121.78 236.80,121.87 237.30,121.96 237.80,122.07 238.30,122.19 238.80,122.31 239.30,122.45 239.80,122.55 240.30,122.67 240.80,122.79 241.30,122.92 241.80,123.07 242.30,123.22 242.80,123.39 243.30,123.56 243.80,123.75 244.30,123.94 244.80,124.15 245.30,124.37 245.80,124.60 246.30,124.84 246.80,125.09 247.30,125.35 247.80,125.62 248.30,125.90 248.80,126.18 249.30,126.49 249.80,126.80 250.30,127.12 250.80,127.46 251.30,127.81 251.80,128.17 252.30,128.55 252.80,128.94 253.30,129.34 253.80,129.76 254.30,130.19 254.80,130.63 255.30,131.10 255.80,131.58 256.30,132.08 256.80,132.60 257.30,133.13 257.80,133.68 258.30,134.25 258.80,134.83 259.30,135.43 259.80,136.05 260.30,136.69 260.80,137.35 261.30,138.02 261.80,138.72 262.30,139.44 262.80,140.18 263.30,140.94 263.80,141.73 264.30,142.54 264.80,143.36 265.30,144.19 265.80,145.05 266.30,145.94 266.80,146.86 267.30,147.81 267.80,148.80 268.30,149.81 268.80,150.87 269.30,151.96 269.80,153.09 270.30,154.26 270.80,155.48 271.30,156.75 271.80,158.06 272.30,159.59 272.80,161.17 273.30,162.82 273.80,164.53 274.30,166.32 274.80,168.18 275.30,170.12 275.80,172.16 276.30,174.29 276.80,176.54 277.30,178.90 277.80,181.41 278.30,184.06 278.80,186.88 279.30,189.90 279.80,193.14 280.30,196.49 280.80,199.58 281.30,203.02 281.80,206.90 282.30,211.33 282.80,216.44 283.30,222.46 283.80,229.69 284.30,238.67 284.80,250.28 285.30,266.02 285.80,286.22 286.10,293.03 286.30,290.38 286.80,272.35 287.30,255.36 287.80,242.20 288.30,231.75 288.80,223.30 289.30,216.15 289.80,209.94 290.30,204.46 290.80,199.53 291.30,195.07 291.80,190.97 292.30,187.20 292.80,183.68 293.30,180.40 293.80,177.32 294.30,174.41 294.80,171.65 295.30,169.03 295.80,168.12 296.30,168.36 296.80,167.47 297.30,165.76 297.80,164.14 298.30,162.60 298.80,161.12 299.30,159.72 299.80,158.37 300.30,157.08 300.80,155.85 301.30,154.66 301.80,153.53 302.30,152.43 302.80,151.38 303.30,150.37 303.80,149.40 304.30,148.46 304.80,147.50 305.30,146.52 305.80,145.58 306.30,144.66 306.80,143.78 307.30,142.92 307.80,142.08 308.30,141.27 308.80,140.49 309.30,139.73 309.80,138.99 310.30,138.27 310.80,137.57 311.30,136.89 311.80,136.23 312.30,135.65 312.80,135.09 313.30,134.55 313.80,134.02 314.30,133.52 314.80,133.02 315.30,132.55 315.80,132.09 316.30,131.64 316.80,131.21 317.30,130.79 317.80,130.38 318.30,129.99 318.80,129.61 319.30,129.24 319.80,128.89 320.30,128.55 320.80,128.22 321.30,127.85 321.80,127.49 322.30,127.13 322.80,126.79 323.30,126.46 323.80,126.14 324.30,125.83 324.80,125.53 325.30,125.24 325.80,124.96 326.30,124.69 326.80,124.43 327.30,124.18 327.80,123.94 328.30,123.71 328.80,123.49 329.30,123.25 329.80,123.00 330.30,122.76 330.80,122.53 331.30,122.30 331.80,122.09 332.30,121.88 332.80,121.68 333.30,121.50 333.80,121.32 334.30,121.14 334.80,120.98 335.30,120.82 335.80,120.67 336.30,120.53 336.80,120.40 337.30,120.28 337.80,120.16 338.30,120.08 338.80,120.09 339.30,120.11 339.80,120.14 340.30,120.18 340.80,120.23 341.30,120.28 341.80,120.34 342.30,120.41 342.80,120.48 343.30,120.57 343.80,120.62 344.30,120.72 344.80,120.82 345.30,120.94 345.80,121.04 346.30,121.13 346.80,121.23 347.30,121.33 347.80,121.45 348.30,121.57 348.80,121.70 349.30,121.84 349.80,121.99 350.30,122.14 350.80,122.30 351.30,122.47 351.80,122.65 352.30,122.83 352.80,123.03 353.30,123.23 353.80,123.44 354.30,123.67 354.80,123.90 355.30,124.14 355.80,124.39 356.30,124.65 356.80,124.92 357.30,125.20 357.80,125.48 358.30,125.78 358.80,126.08 359.30,126.39 359.80,126.71 360.30,127.04 360.80,127.38 361.30,127.73 361.80,128.09 362.30,128.47 362.80,128.86 363.30,129.26 363.80,129.67 364.30,130.08 364.80,130.51 365.30,130.95 365.80,131.41 366.30,131.87 366.80,132.34 367.30,132.83 367.80,133.33 368.30,133.84 368.80,134.36 369.30,134.90 369.80,135.45 370.30,135.96 370.80,136.45 371.30,136.95 371.80,137.47 372.30,138.00 372.80,138.55 373.30,139.12 373.80,139.70 374.30,140.30 374.80,140.91 375.30,141.54 375.80,142.19 376.30,142.86 376.80,143.55 377.30,144.26 377.80,144.99 378.30,145.75 378.80,146.57 379.30,147.40 379.80,148.27 380.30,149.15 380.80,150.07 381.30,151.01 381.80,151.98 382.30,152.98 382.80,154.01 383.30,155.07 383.80,156.17 384.30,157.30 384.80,158.47 385.30,159.68 385.80,160.94 386.30,162.24 386.80,163.65 387.30,165.13 387.80,166.66 388.30,168.25 388.80,169.90 389.30,171.62 389.80,173.41 390.30,175.27 390.80,177.22 391.30,179.26 391.80,181.40 392.30,183.65 392.80,186.02 393.30,188.52 393.80,191.16 394.30,193.97 394.80,196.07 395.30,198.22 395.80,200.64 396.30,203.35 396.80,206.42 397.30,209.90 397.80,213.87 398.30,218.42 398.80,223.62 399.30,229.51 399.80,235.97 400.30,242.31 400.80,246.75 401.05,247.42 401.30,246.53 401.80,240.21 402.30,230.95 402.80,222.06 403.30,214.70 403.80,208.37 404.30,202.90 404.80,198.14 405.30,193.96 405.80,190.25 406.30,186.93 406.80,183.95 407.30,181.24 407.80,178.78 408.30,176.53 408.80,174.47 409.30,172.58 409.80,170.83 410.30,169.21 410.80,167.71 411.30,166.31 411.80,165.02 412.30,163.81 412.80,162.69 413.30,161.64 413.80,160.67 414.30,159.75 414.80,158.90 415.30,158.11 415.80,157.37 416.30,156.68 416.80,155.82 417.30,154.87 417.80,153.97 418.30,153.10 418.80,152.27 419.30,151.47 419.80,150.71 420.30,149.98 420.80,149.28 421.30,148.61 421.80,147.97 422.30,147.36 422.80,146.77 423.30,146.21 423.80,145.67 424.30,145.16 424.80,144.66 425.30,144.19 425.80,143.74 426.30,143.31 426.80,142.73 427.30,142.13 427.80,141.55 428.30,140.98 428.80,140.43 429.30,139.90 429.80,139.39 430.30,138.89 430.80,138.41 431.30,137.94 431.80,137.49 432.30,137.05 432.80,136.63 433.30,136.22 433.80,135.82 434.30,135.41 434.80,134.99 435.30,134.59 435.80,134.19 436.30,133.81 436.80,133.45 437.30,133.09 437.80,132.75 438.30,132.42 438.80,132.10 439.30,131.79 439.80,131.49 440.30,131.21 440.80,130.93 441.30,130.67 441.80,130.42 442.30,130.17 442.80,129.97 443.30,129.88 443.80,129.81 444.30,129.74 444.80,129.68 445.30,129.64 445.80,129.60 446.30,129.58 446.80,129.56 447.30,129.56 447.80,129.56 448.30,129.57 448.80,129.60 449.30,129.63 449.80,129.68 450.30,129.73 450.80,129.80 451.30,129.87 451.80,129.95 452.30,129.95 452.80,129.86 453.30,129.77 453.80,129.70 454.30,129.64 454.80,129.58 455.30,129.54 455.80,129.51 456.30,129.48 456.80,129.47 457.30,129.46 457.80,129.47 458.30,129.49 458.80,129.51 459.30,129.55 459.80,129.60 460.30,129.65 460.80,129.72 461.30,129.80 461.80,129.89 462.30,129.99 462.80,130.22 463.30,130.49 463.80,130.76 464.30,131.05 464.80,131.36 465.30,131.67 465.80,131.99 466.30,132.33 466.80,132.68 467.30,133.04 467.80,133.41 468.30,133.80 468.80,134.20 469.30,134.69 469.80,135.23 470.30,135.77 470.80,136.33 471.30,136.91 471.80,137.50 472.30,138.10 472.80,138.72 473.30,139.35 473.80,140.00 474.30,140.66 474.80,141.34 475.30,142.04 475.80,142.59 476.30,143.05 476.80,143.53 477.30,144.03 477.80,144.54 478.30,145.08 478.80,145.64 479.30,146.22 479.80,146.82 480.30,147.44 480.80,148.09 481.30,148.76 481.80,149.46 482.30,150.18 482.80,150.93 483.30,151.71 483.80,152.52 484.30,153.33 484.80,154.03 485.30,154.77 485.80,155.55 486.30,156.36 486.80,157.21 487.30,158.11 487.80,159.05 488.30,160.04 488.80,161.08 489.30,162.18 489.80,163.33 490.30,164.55 490.80,165.84 491.30,167.20 491.80,168.64 492.30,170.16 492.80,171.78 493.30,173.50 493.80,175.33 494.30,177.29 494.80,179.38 495.30,181.63 495.80,184.06 496.30,186.68 496.80,189.53 497.30,192.64 497.80,196.05 498.30,199.82 498.80,204.01 499.30,208.72 499.80,214.04 500.30,220.12 500.80,227.51 501.30,235.85 501.80,244.62 502.30,252.25 502.80,255.50 502.80,255.50 503.30,252.37 503.80,245.26 504.30,237.29 504.80,229.83 505.30,223.22 505.80,217.41 506.30,212.30 506.80,207.77 507.30,203.74 507.80,200.11 508.30,198.08 508.80,196.83 509.30,194.25 509.80,191.89 510.30,189.72 510.80,187.73 511.30,185.88 511.80,184.17 512.30,182.58 512.80,181.11 513.30,179.73 513.80,178.45 514.30,177.25 514.80,176.13 515.30,175.08 515.80,174.10 516.30,173.18 516.80,171.61 517.30,166.08 517.80,161.48 518.30,160.51 518.80,159.59 519.30,158.72 519.80,157.88 520.30,157.09 520.80,156.33 521.30,155.61 521.80,154.91 522.30,154.26 522.80,153.63 523.30,153.03 523.80,152.45 524.30,151.91 524.80,151.39 525.30,148.06 525.80,144.22 526.30,143.26 526.80,142.32 527.30,141.40 527.80,140.50 528.30,139.62 528.80,138.76 529.30,137.92 529.80,137.24 530.30,136.68" fill="none" stroke="#cf9804" stroke-width="2.4" stroke-linejoin="round"/>
<g fill="#cf9804"><path d="M76.30 156.50L80.90 161.60L76.30 166.70L71.70 161.60Z"/><path d="M84.46 225.57L89.06 230.67L84.46 235.77L79.86 230.67Z"/><path d="M92.61 144.48L97.21 149.58L92.61 154.68L88.01 149.58Z"/><path d="M100.77 120.59L105.37 125.69L100.77 130.79L96.17 125.69Z"/><path d="M108.92 110.81L113.52 115.91L108.92 121.01L104.32 115.91Z"/><path d="M117.08 104.11L121.68 109.21L117.08 114.31L112.48 109.21Z"/><path d="M125.24 102.05L129.84 107.15L125.24 112.25L120.64 107.15Z"/><path d="M133.39 102.73L137.99 107.83L133.39 112.93L128.79 107.83Z"/><path d="M141.55 105.16L146.15 110.26L141.55 115.36L136.95 110.26Z"/><path d="M149.70 110.33L154.30 115.43L149.70 120.53L145.10 115.43Z"/><path d="M157.86 119.01L162.46 124.11L157.86 129.21L153.26 124.11Z"/><path d="M166.02 131.81L170.62 136.91L166.02 142.01L161.42 136.91Z"/><path d="M174.17 154.82L178.77 159.92L174.17 165.02L169.57 159.92Z"/><path d="M182.33 202.68L186.93 207.78L182.33 212.88L177.73 207.78Z"/><path d="M190.48 184.00L195.08 189.10L190.48 194.20L185.88 189.10Z"/><path d="M198.64 149.51L203.24 154.61L198.64 159.71L194.04 154.61Z"/><path d="M206.80 132.56L211.40 137.66L206.80 142.76L202.20 137.66Z"/><path d="M214.95 123.69L219.55 128.79L214.95 133.89L210.35 128.79Z"/><path d="M223.11 119.84L227.71 124.94L223.11 130.04L218.51 124.94Z"/><path d="M231.26 116.34L235.86 121.44L231.26 126.54L226.66 121.44Z"/><path d="M239.42 117.38L244.02 122.48L239.42 127.58L234.82 122.48Z"/><path d="M247.58 120.40L252.18 125.50L247.58 130.60L242.98 125.50Z"/><path d="M255.73 126.42L260.33 131.52L255.73 136.62L251.13 131.52Z"/><path d="M263.89 136.77L268.49 141.87L263.89 146.97L259.29 141.87Z"/><path d="M272.04 153.70L276.64 158.80L272.04 163.90L267.44 158.80Z"/><path d="M280.20 190.82L284.80 195.92L280.20 201.02L275.60 195.92Z"/><path d="M288.36 225.61L292.96 230.71L288.36 235.81L283.76 230.71Z"/><path d="M296.51 163.40L301.11 168.50L296.51 173.60L291.91 168.50Z"/><path d="M304.67 142.66L309.27 147.76L304.67 152.86L300.07 147.76Z"/><path d="M312.82 129.96L317.42 135.06L312.82 140.16L308.22 135.06Z"/><path d="M320.98 122.99L325.58 128.09L320.98 133.19L316.38 128.09Z"/><path d="M329.14 118.23L333.74 123.33L329.14 128.43L324.54 123.33Z"/><path d="M337.29 115.18L341.89 120.28L337.29 125.38L332.69 120.28Z"/><path d="M345.45 115.87L350.05 120.97L345.45 126.07L340.85 120.97Z"/><path d="M353.60 118.26L358.20 123.36L353.60 128.46L349.00 123.36Z"/><path d="M361.76 122.97L366.36 128.07L361.76 133.17L357.16 128.07Z"/><path d="M369.92 130.47L374.52 135.57L369.92 140.67L365.32 135.57Z"/><path d="M378.07 140.30L382.67 145.40L378.07 150.50L373.47 145.40Z"/><path d="M386.23 156.95L390.83 162.05L386.23 167.15L381.63 162.05Z"/><path d="M394.38 189.36L398.98 194.46L394.38 199.56L389.78 194.46Z"/><path d="M402.54 221.23L407.14 226.33L402.54 231.43L397.94 226.33Z"/><path d="M410.70 162.91L415.30 168.01L410.70 173.11L406.10 168.01Z"/><path d="M418.85 147.08L423.45 152.18L418.85 157.28L414.25 152.18Z"/><path d="M427.01 137.38L431.61 142.48L427.01 147.58L422.41 142.48Z"/><path d="M435.16 129.60L439.76 134.70L435.16 139.80L430.56 134.70Z"/><path d="M443.32 124.78L447.92 129.88L443.32 134.98L438.72 129.88Z"/><path d="M451.48 124.80L456.08 129.90L451.48 135.00L446.88 129.90Z"/><path d="M459.63 124.48L464.23 129.58L459.63 134.68L455.03 129.58Z"/><path d="M467.79 128.30L472.39 133.40L467.79 138.50L463.19 133.40Z"/><path d="M475.94 137.62L480.54 142.72L475.94 147.82L471.34 142.72Z"/><path d="M484.10 147.93L488.70 153.03L484.10 158.13L479.50 153.03Z"/><path d="M492.26 164.92L496.86 170.02L492.26 175.12L487.66 170.02Z"/><path d="M500.41 216.50L505.01 221.60L500.41 226.70L495.81 221.60Z"/><path d="M508.57 193.01L513.17 198.11L508.57 203.21L503.97 198.11Z"/><path d="M516.72 167.35L521.32 172.45L516.72 177.55L512.12 172.45Z"/><path d="M524.88 146.21L529.48 151.31L524.88 156.41L520.28 151.31Z"/></g>
<path d="M75.30,126.13 75.80,124.73 76.30,123.40 76.80,122.22 77.30,121.09 77.80,120.01 78.30,118.97 78.80,117.97 79.30,117.01 79.80,116.09 80.30,115.20 80.80,114.34 81.30,113.52 81.80,112.72 82.30,111.96 82.80,111.22 83.30,110.51 83.80,109.86 84.30,109.28 84.80,108.73 85.30,108.20 85.80,107.69 86.30,107.21 86.80,106.74 87.30,106.30 87.80,105.87 88.30,105.46 88.80,105.07 89.30,104.70 89.80,104.35 90.30,104.01 90.80,103.69 91.30,103.39 91.80,103.09 92.30,102.81 92.80,102.54 93.30,102.28 93.80,102.05 94.30,101.82 94.80,101.61 95.30,101.41 95.80,101.23 96.30,101.06 96.80,100.90 97.30,100.75 97.80,100.62 98.30,100.50 98.80,100.39 99.30,100.29 99.80,100.21 100.30,100.14 100.80,100.07 101.30,100.02 101.80,99.98 102.30,99.95 102.80,99.94 103.30,99.93 103.80,99.93 104.30,99.95 104.80,99.97 105.30,100.01 105.80,100.05 106.30,100.11 106.80,100.11 107.30,100.10 107.80,100.10 108.30,100.11 108.80,100.13 109.30,100.16 109.80,100.21 110.30,100.26 110.80,100.32 111.30,100.39 111.80,100.47 112.30,100.56 112.80,100.66 113.30,100.77 113.80,100.90 114.30,101.03 114.80,101.17 115.30,101.32 115.80,101.48 116.30,101.65 116.80,101.83 117.30,102.02 117.80,102.26 118.30,102.51 118.80,102.78 119.30,103.05 119.80,103.33 120.30,103.62 120.80,103.92 121.30,104.24 121.80,104.56 122.30,104.90 122.80,105.24 123.30,105.60 123.80,105.97 124.30,106.35 124.80,106.74 125.30,107.14 125.80,107.55 126.30,107.97 126.80,108.38 127.30,108.81 127.80,109.25 128.30,109.70 128.80,110.16 129.30,110.64 129.80,111.13 130.30,111.64 130.80,112.15 131.30,112.69 131.80,113.23 132.30,113.79 132.80,114.37 133.30,114.96 133.80,115.61 134.30,116.33 134.80,117.06 135.30,117.81 135.80,118.58 136.30,119.37 136.80,120.17 137.30,121.00 137.80,121.84 138.30,122.71 138.80,123.59 139.30,124.50 139.80,125.42 140.30,126.38 140.80,127.35 141.30,128.30 141.80,129.07 142.30,129.87 142.80,130.70 143.30,131.55 143.80,132.44 144.30,133.36 144.80,134.31 145.30,135.29 145.80,136.31 146.30,137.37 146.80,138.48 147.30,139.62 147.80,140.81 148.30,142.05 148.80,143.34 149.30,144.68 149.80,146.08 150.30,147.63 150.80,149.30 151.30,151.04 151.80,152.85 152.30,154.76 152.80,156.76 153.30,158.86 153.80,161.07 154.30,163.41 154.80,165.89 155.30,168.53 155.80,171.35 156.30,174.37 156.80,177.62 157.30,181.15 157.80,184.99 158.30,189.25 158.80,193.97 159.30,199.28 159.80,205.33 160.30,212.37 160.80,220.77 161.30,231.14 161.80,244.54 162.30,262.62 162.80,282.52 162.95,284.48 163.30,275.56 163.80,255.01 164.30,239.25 164.80,227.47 165.30,218.22 165.80,210.65 166.30,204.27 166.80,198.76 167.30,193.93 167.80,189.63 168.30,185.76 168.80,182.25 169.30,179.04 169.80,176.08 170.30,173.34 170.80,170.80 171.30,168.43 171.80,166.20 172.30,164.11 172.80,162.14 173.30,160.28 173.80,158.52 174.30,156.82 174.80,155.20 175.30,153.65 175.80,152.18 176.30,150.77 176.80,149.42 177.30,148.13 177.80,146.90 178.30,145.71 178.80,144.57 179.30,143.48 179.80,142.43 180.30,141.41 180.80,140.44 181.30,139.50 181.80,138.59 182.30,137.66 182.80,136.75 183.30,135.88 183.80,135.03 184.30,134.21 184.80,133.42 185.30,132.65 185.80,131.91 186.30,131.19 186.80,130.49 187.30,129.82 187.80,129.16 188.30,128.53 188.80,127.91 189.30,127.55 189.80,127.37 190.30,127.20 190.80,127.05 191.30,126.92 191.80,126.80 192.30,126.60 192.80,126.01 193.30,125.43 193.80,124.86 194.30,124.31 194.80,123.78 195.30,123.26 195.80,122.75 196.30,122.26 196.80,121.78 197.30,121.31 197.80,120.86 198.30,120.42 198.80,120.04 199.30,119.87 199.80,119.70 200.30,119.56 200.80,119.42 201.30,119.29 201.80,119.18 202.30,119.08 202.80,118.99 203.30,118.91 203.80,118.84 204.30,118.78 204.80,118.73 205.30,118.70 205.80,118.67 206.30,118.65 206.80,118.63 207.30,118.56 207.80,118.50 208.30,118.45 208.80,118.40 209.30,118.37 209.80,118.35 210.30,118.34 210.80,118.34 211.30,118.34 211.80,118.36 212.30,118.39 212.80,118.43 213.30,118.48 213.80,118.53 214.30,118.60 214.80,118.69 215.30,118.79 215.80,118.91 216.30,119.03 216.80,119.17 217.30,119.32 217.80,119.47 218.30,119.64 218.80,119.82 219.30,120.00 219.80,120.20 220.30,120.41 220.80,120.62 221.30,120.85 221.80,121.09 222.30,121.34 222.80,121.63 223.30,121.96 223.80,122.30 224.30,122.66 224.80,123.03 225.30,123.41 225.80,123.80 226.30,124.20 226.80,124.61 227.30,125.03 227.80,125.47 228.30,125.92 228.80,126.38 229.30,126.85 229.80,127.34 230.30,127.84 230.80,128.31 231.30,128.74 231.80,129.18 232.30,129.63 232.80,130.10 233.30,130.58 233.80,131.08 234.30,131.59 234.80,132.12 235.30,132.66 235.80,133.22 236.30,133.80 236.80,134.39 237.30,135.01 237.80,135.63 238.30,136.28 238.80,136.95 239.30,137.64 239.80,138.55 240.30,139.49 240.80,140.44 241.30,141.42 241.80,142.42 242.30,143.45 242.80,144.50 243.30,145.58 243.80,146.68 244.30,147.81 244.80,148.97 245.30,150.17 245.80,151.39 246.30,152.32 246.80,153.28 247.30,154.28 247.80,155.32 248.30,156.41 248.80,157.53 249.30,158.70 249.80,159.92 250.30,161.20 250.80,162.53 251.30,163.91 251.80,165.37 252.30,166.89 252.80,168.49 253.30,170.17 253.80,171.93 254.30,173.79 254.80,175.76 255.30,177.85 255.80,180.04 256.30,182.25 256.80,184.61 257.30,187.17 257.80,189.93 258.30,192.93 258.80,196.22 259.30,199.83 259.80,203.85 260.30,208.35 260.80,213.44 261.30,219.30 261.80,226.15 262.30,234.31 262.80,244.24 263.30,256.34 263.80,269.59 264.25,275.93 264.30,275.86 264.80,268.80 265.30,256.85 265.80,245.58 266.30,235.99 266.80,227.86 267.30,220.88 267.80,214.79 268.30,209.39 268.80,204.55 269.30,200.16 269.80,196.15 270.30,192.46 270.80,189.04 271.30,185.84 271.80,182.85 272.30,180.04 272.80,177.38 273.30,174.87 273.80,172.48 274.30,170.20 274.80,168.02 275.30,165.94 275.80,163.95 276.30,162.03 276.80,160.19 277.30,158.41 277.80,156.70 278.30,155.04 278.80,153.44 279.30,152.14 279.80,151.06 280.30,150.03 280.80,149.03 281.30,148.08 281.80,147.16 282.30,146.28 282.80,145.44 283.30,144.63 283.80,143.85 284.30,143.09 284.80,142.37 285.30,141.67 285.80,141.00 286.30,140.36 286.80,139.73 287.30,139.13 287.80,138.56 288.30,137.96 288.80,137.23 289.30,136.52 289.80,135.82 290.30,135.15 290.80,134.49 291.30,133.85 291.80,133.23 292.30,132.62 292.80,132.03 293.30,131.45 293.80,130.89 294.30,130.35 294.80,129.81 295.30,129.30 295.80,128.82 296.30,128.39 296.80,127.97 297.30,127.56 297.80,127.16 298.30,126.78 298.80,126.40 299.30,126.04 299.80,125.69 300.30,125.35 300.80,125.02 301.30,124.71 301.80,124.40 302.30,124.10 302.80,123.82 303.30,123.54 303.80,123.28 304.30,123.02 304.80,122.73 305.30,122.41 305.80,122.10 306.30,121.81 306.80,121.52 307.30,121.24 307.80,120.97 308.30,120.71 308.80,120.46 309.30,120.21 309.80,119.98 310.30,119.75 310.80,119.53 311.30,119.32 311.80,119.12 312.30,119.00 312.80,118.89 313.30,118.79 313.80,118.69 314.30,118.60 314.80,118.52 315.30,118.45 315.80,118.39 316.30,118.33 316.80,118.28 317.30,118.24 317.80,118.21 318.30,118.18 318.80,118.17 319.30,118.15 319.80,118.15 320.30,118.16 320.80,118.17 321.30,118.27 321.80,118.39 322.30,118.52 322.80,118.66 323.30,118.81 323.80,118.96 324.30,119.12 324.80,119.29 325.30,119.47 325.80,119.66 326.30,119.85 326.80,120.05 327.30,120.26 327.80,120.47 328.30,120.69 328.80,120.92 329.30,121.06 329.80,121.15 330.30,121.24 330.80,121.34 331.30,121.45 331.80,121.57 332.30,121.69 332.80,121.83 333.30,121.97 333.80,122.12 334.30,122.27 334.80,122.44 335.30,122.61 335.80,122.79 336.30,122.98 336.80,123.18 337.30,123.39 337.80,123.72 338.30,124.07 338.80,124.42 339.30,124.78 339.80,125.14 340.30,125.52 340.80,125.91 341.30,126.31 341.80,126.71 342.30,127.13 342.80,127.56 343.30,127.99 343.80,128.44 344.30,128.90 344.80,129.36 345.30,129.84 345.80,130.28 346.30,130.70 346.80,131.13 347.30,131.57 347.80,132.02 348.30,132.49 348.80,132.97 349.30,133.46 349.80,133.96 350.30,134.48 350.80,135.01 351.30,135.55 351.80,136.11 352.30,136.69 352.80,137.28 353.30,137.90 353.80,138.54 354.30,139.20 354.80,139.88 355.30,140.57 355.80,141.28 356.30,142.01 356.80,142.76 357.30,143.53 357.80,144.32 358.30,145.13 358.80,145.96 359.30,146.82 359.80,147.70 360.30,148.52 360.80,149.30 361.30,150.12 361.80,150.96 362.30,151.83 362.80,152.73 363.30,153.66 363.80,154.63 364.30,155.64 364.80,156.69 365.30,157.77 365.80,158.91 366.30,160.08 366.80,161.31 367.30,162.59 367.80,163.92 368.30,165.32 368.80,166.77 369.30,168.30 369.80,169.91 370.30,171.76 370.80,173.76 371.30,175.85 371.80,178.05 372.30,180.37 372.80,182.81 373.30,185.41 373.80,188.17 374.30,191.11 374.80,194.26 375.30,197.66 375.80,201.35 376.30,205.36 376.80,209.78 377.30,214.67 377.80,220.14 378.30,226.43 378.80,233.70 379.30,242.03 379.80,251.49 380.30,261.54 380.80,269.54 381.10,271.18 381.30,270.19 381.80,261.56 382.30,250.55 382.80,240.64 383.30,232.27 383.80,225.20 384.30,219.15 384.80,213.90 385.30,209.29 385.80,205.19 386.30,201.49 386.80,198.00 387.30,194.81 387.80,191.87 388.30,189.15 388.80,186.63 389.30,184.28 389.80,182.07 390.30,180.00 390.80,178.06 391.30,176.22 391.80,174.48 392.30,172.84 392.80,171.28 393.30,169.79 393.80,168.38 394.30,167.04 394.80,165.61 395.30,164.14 395.80,162.73 396.30,161.36 396.80,160.05 397.30,158.78 397.80,157.55 398.30,156.36 398.80,155.21 399.30,154.09 399.80,153.01 400.30,151.97 400.80,150.95 401.30,149.97 401.80,149.01 402.30,148.22 402.80,147.46 403.30,146.72 403.80,146.00 404.30,145.32 404.80,144.65 405.30,144.00 405.80,143.38 406.30,142.78 406.80,142.20 407.30,141.63 407.80,141.09 408.30,140.56 408.80,140.05 409.30,139.56 409.80,139.09 410.30,138.63 410.80,138.19 411.30,137.73 411.80,137.27 412.30,136.83 412.80,136.41 413.30,136.00 413.80,135.60 414.30,135.22 414.80,134.85 415.30,134.49 415.80,134.15 416.30,133.82 416.80,133.50 417.30,133.20 417.80,132.91 418.30,132.63 418.80,132.39 419.30,132.30 419.80,132.22 420.30,132.16 420.80,132.10 421.30,132.06 421.80,132.02 422.30,132.00 422.80,131.99 423.30,131.99 423.80,132.00 424.30,132.02 424.80,132.05 425.30,132.10 425.80,132.15 426.30,132.21 426.80,132.29 427.30,132.37 427.80,132.50 428.30,132.65 428.80,132.81 429.30,132.98 429.80,133.17 430.30,133.36 430.80,133.56 431.30,133.78 431.80,134.00 432.30,134.23 432.80,134.48 433.30,134.73 433.80,135.00 434.30,135.27 434.80,135.56 435.30,135.79 435.80,135.93 436.30,136.09 436.80,136.26 437.30,136.44 437.80,136.63 438.30,136.83 438.80,137.04 439.30,137.26 439.80,137.49 440.30,137.73 440.80,137.99 441.30,138.25 441.80,138.53 442.30,138.81 442.80,139.11 443.30,139.38 443.80,139.67 444.30,139.96 444.80,140.27 445.30,140.59 445.80,140.93 446.30,141.28 446.80,141.64 447.30,142.01 447.80,142.40 448.30,142.79 448.80,143.21 449.30,143.64 449.80,144.08 450.30,144.53 450.80,145.01 451.30,145.49 451.80,145.99 452.30,146.49 452.80,147.01 453.30,147.55 453.80,148.10 454.30,148.67 454.80,149.26 455.30,149.87 455.80,150.50 456.30,151.14 456.80,151.81 457.30,152.50 457.80,153.21 458.30,153.94 458.80,154.70 459.30,155.48 459.80,156.27 460.30,157.08 460.80,157.93 461.30,158.80 461.80,159.70 462.30,160.64 462.80,161.60 463.30,162.60 463.80,163.64 464.30,164.71 464.80,165.82 465.30,166.98 465.80,168.17 466.30,169.42 466.80,170.71 467.30,172.06 467.80,173.46 468.30,174.92 468.80,176.45 469.30,178.04 469.80,179.71 470.30,181.46 470.80,183.30 471.30,185.24 471.80,187.28 472.30,189.44 472.80,191.72 473.30,194.15 473.80,196.73 474.30,199.50 474.80,202.47 475.30,205.67 475.80,209.15 476.30,212.82 476.80,216.83 477.30,221.27 477.80,226.25 478.30,231.88 478.80,238.29 479.30,245.60 479.80,253.83 480.30,262.44 480.80,269.39 481.15,271.18 481.30,270.83 481.80,265.50 482.30,256.89 482.80,248.01 483.30,239.93 483.80,232.77 484.30,226.52 484.80,221.06 485.30,216.19 485.80,211.80 486.30,207.82 486.80,204.18 487.30,200.83 487.80,197.73 488.30,194.85 488.80,192.16 489.30,189.64 489.80,187.27 490.30,185.03 490.80,182.92 491.30,180.92 491.80,179.01 492.30,177.18 492.80,175.25 493.30,173.41 493.80,171.63 494.30,169.92 494.80,168.27 495.30,166.68 495.80,165.14 496.30,163.66 496.80,162.22 497.30,160.82 497.80,159.47 498.30,158.16 498.80,156.89 499.30,155.65 499.80,154.59 500.30,153.66 500.80,152.75 501.30,151.88 501.80,151.04 502.30,150.22 502.80,149.43 503.30,148.67 503.80,147.93 504.30,147.22 504.80,146.53 505.30,145.86 505.80,145.21 506.30,144.58 506.80,143.97 507.30,143.38 507.80,142.81 508.30,142.25 508.80,141.67 509.30,141.10 509.80,140.54 510.30,140.01 510.80,139.48 511.30,138.98 511.80,138.49 512.30,138.02 512.80,137.56 513.30,137.11 513.80,136.68 514.30,136.26 514.80,135.86 515.30,135.47 515.80,135.09 516.30,134.73 516.80,134.38 517.30,134.02 517.80,133.67 518.30,133.33 518.80,133.00 519.30,132.68 519.80,132.38 520.30,132.09 520.80,131.81 521.30,131.54 521.80,131.28 522.30,131.03 522.80,130.80 523.30,130.57 523.80,130.36 524.30,130.15 524.80,129.94 525.30,129.70 525.80,129.48 526.30,129.27 526.80,129.06 527.30,128.87 527.80,128.68 528.30,128.51 528.80,128.35 529.30,128.20 529.80,128.12 530.30,128.10" fill="none" stroke="#08c5c2" stroke-width="2.4" stroke-linejoin="round"/>
<g fill="#08c5c2"><path d="M76.30 118.80L81.06 122.25L79.24 127.84L73.36 127.84L71.54 122.25Z"/><path d="M84.46 104.51L89.21 107.96L87.39 113.55L81.52 113.55L79.70 107.96Z"/><path d="M92.61 98.04L97.37 101.49L95.55 107.08L89.67 107.08L87.86 101.49Z"/><path d="M100.77 95.48L105.52 98.93L103.71 104.52L97.83 104.52L96.01 98.93Z"/><path d="M108.92 95.54L113.68 98.99L111.86 104.58L105.99 104.58L104.17 98.99Z"/><path d="M117.08 97.34L121.84 100.79L120.02 106.38L114.14 106.38L112.32 100.79Z"/><path d="M125.24 102.49L129.99 105.94L128.17 111.53L122.30 111.53L120.48 105.94Z"/><path d="M133.39 110.47L138.15 113.93L136.33 119.52L130.45 119.52L128.64 113.93Z"/><path d="M141.55 124.08L146.30 127.53L144.49 133.12L138.61 133.12L136.79 127.53Z"/><path d="M149.70 141.21L154.46 144.67L152.64 150.26L146.77 150.26L144.95 144.67Z"/><path d="M157.86 180.88L162.62 184.33L160.80 189.93L154.92 189.93L153.10 184.33Z"/><path d="M166.02 203.17L170.77 206.62L168.95 212.21L163.08 212.21L161.26 206.62Z"/><path d="M174.17 152.65L178.93 156.10L177.11 161.69L171.23 161.69L169.42 156.10Z"/><path d="M182.33 133.01L187.08 136.46L185.27 142.05L179.39 142.05L177.57 136.46Z"/><path d="M190.48 122.54L195.24 126.00L193.42 131.59L187.55 131.59L185.73 126.00Z"/><path d="M198.64 115.53L203.40 118.98L201.58 124.57L195.70 124.57L193.88 118.98Z"/><path d="M206.80 114.03L211.55 117.49L209.73 123.08L203.86 123.08L202.04 117.49Z"/><path d="M214.95 114.12L219.71 117.57L217.89 123.16L212.01 123.16L210.20 117.57Z"/><path d="M223.11 117.23L227.86 120.68L226.05 126.28L220.17 126.28L218.35 120.68Z"/><path d="M231.26 124.10L236.02 127.56L234.20 133.15L228.33 133.15L226.51 127.56Z"/><path d="M239.42 133.25L244.18 136.71L242.36 142.30L236.48 142.30L234.66 136.71Z"/><path d="M247.58 150.25L252.33 153.71L250.51 159.30L244.64 159.30L242.82 153.71Z"/><path d="M255.73 175.15L260.49 178.61L258.67 184.20L252.79 184.20L250.98 178.61Z"/><path d="M263.89 267.01L268.64 270.46L266.83 276.05L260.95 276.05L259.13 270.46Z"/><path d="M272.04 176.86L276.80 180.31L274.98 185.90L269.11 185.90L267.29 180.31Z"/><path d="M280.20 145.63L284.96 149.08L283.14 154.67L277.26 154.67L275.44 149.08Z"/><path d="M288.36 133.28L293.11 136.73L291.29 142.32L285.42 142.32L283.60 136.73Z"/><path d="M296.51 123.61L301.27 127.06L299.45 132.65L293.57 132.65L291.76 127.06Z"/><path d="M304.67 118.21L309.42 121.67L307.61 127.26L301.73 127.26L299.91 121.67Z"/><path d="M312.82 114.28L317.58 117.74L315.76 123.33L309.89 123.33L308.07 117.74Z"/><path d="M320.98 113.59L325.74 117.04L323.92 122.63L318.04 122.63L316.22 117.04Z"/><path d="M329.14 116.44L333.89 119.89L332.07 125.48L326.20 125.48L324.38 119.89Z"/><path d="M337.29 118.79L342.05 122.24L340.23 127.83L334.35 127.83L332.54 122.24Z"/><path d="M345.45 125.39L350.20 128.84L348.39 134.43L342.51 134.43L340.69 128.84Z"/><path d="M353.60 133.69L358.36 137.15L356.54 142.74L350.67 142.74L348.85 137.15Z"/><path d="M361.76 146.29L366.52 149.74L364.70 155.33L358.82 155.33L357.00 149.74Z"/><path d="M369.92 165.69L374.67 169.15L372.85 174.74L366.98 174.74L365.16 169.15Z"/><path d="M378.07 218.82L382.83 222.27L381.01 227.86L375.13 227.86L373.32 222.27Z"/><path d="M386.23 197.42L390.98 200.87L389.17 206.47L383.29 206.47L381.47 200.87Z"/><path d="M394.38 162.22L399.14 165.67L397.32 171.26L391.45 171.26L389.63 165.67Z"/><path d="M402.54 143.25L407.30 146.70L405.48 152.29L399.60 152.29L397.78 146.70Z"/><path d="M410.70 133.68L415.45 137.14L413.63 142.73L407.76 142.73L405.94 137.14Z"/><path d="M418.85 127.78L423.61 131.24L421.79 136.83L415.91 136.83L414.10 131.24Z"/><path d="M427.01 127.72L431.76 131.18L429.95 136.77L424.07 136.77L422.25 131.18Z"/><path d="M435.16 131.15L439.92 134.60L438.10 140.19L432.23 140.19L430.41 134.60Z"/><path d="M443.32 134.79L448.08 138.25L446.26 143.84L440.38 143.84L438.56 138.25Z"/><path d="M451.48 141.07L456.23 144.52L454.41 150.11L448.54 150.11L446.72 144.52Z"/><path d="M459.63 151.40L464.39 154.85L462.57 160.44L456.69 160.44L454.88 154.85Z"/><path d="M467.79 168.82L472.54 172.28L470.73 177.87L464.85 177.87L463.03 172.28Z"/><path d="M475.94 205.60L480.70 209.06L478.88 214.65L473.01 214.65L471.19 209.06Z"/><path d="M484.10 224.29L488.86 227.75L487.04 233.34L481.16 233.34L479.34 227.75Z"/><path d="M492.26 172.75L497.01 176.21L495.19 181.80L489.32 181.80L487.50 176.21Z"/><path d="M500.41 148.85L505.17 152.31L503.35 157.90L497.47 157.90L495.66 152.31Z"/><path d="M508.57 137.34L513.32 140.79L511.51 146.38L505.63 146.38L503.81 140.79Z"/><path d="M516.72 129.83L521.48 133.28L519.66 138.87L513.79 138.87L511.97 133.28Z"/><path d="M524.88 125.30L529.64 128.76L527.82 134.35L521.94 134.35L520.12 128.76Z"/></g>
<path d="M75.30,89.34 75.80,89.26 76.30,89.19 76.80,89.34 77.30,89.50 77.80,89.67 78.30,89.84 78.80,90.03 79.30,90.23 79.80,90.43 80.30,90.65 80.80,90.88 81.30,91.11 81.80,91.36 82.30,91.62 82.80,91.89 83.30,92.16 83.80,92.45 84.30,92.75 84.80,93.05 85.30,93.34 85.80,93.64 86.30,93.95 86.80,94.26 87.30,94.59 87.80,94.93 88.30,95.28 88.80,95.65 89.30,96.02 89.80,96.40 90.30,96.80 90.80,97.20 91.30,97.62 91.80,98.05 92.30,98.43 92.80,98.80 93.30,99.17 93.80,99.56 94.30,99.96 94.80,100.37 95.30,100.80 95.80,101.24 96.30,101.69 96.80,102.15 97.30,102.63 97.80,103.12 98.30,103.63 98.80,104.15 99.30,104.68 99.80,105.24 100.30,105.87 100.80,106.55 101.30,107.24 101.80,107.94 102.30,108.66 102.80,109.40 103.30,110.16 103.80,110.94 104.30,111.73 104.80,112.55 105.30,113.38 105.80,114.24 106.30,115.11 106.80,116.01 107.30,116.91 107.80,117.71 108.30,118.54 108.80,119.39 109.30,120.27 109.80,121.18 110.30,122.11 110.80,123.08 111.30,124.08 111.80,125.11 112.30,126.18 112.80,127.29 113.30,128.43 113.80,129.61 114.30,130.84 114.80,132.12 115.30,133.44 115.80,134.81 116.30,136.24 116.80,137.73 117.30,139.20 117.80,140.65 118.30,142.16 118.80,143.76 119.30,145.45 119.80,147.23 120.30,149.11 120.80,151.11 121.30,153.24 121.80,155.50 122.30,157.93 122.80,160.54 123.30,163.36 123.80,166.41 124.30,169.75 124.80,173.41 125.30,177.52 125.80,182.54 126.30,188.15 126.80,194.55 127.30,201.98 127.80,210.85 128.30,221.85 128.80,236.25 129.30,256.28 129.80,278.57 129.90,279.73 130.30,266.37 130.80,244.43 131.30,228.82 131.80,217.36 132.30,208.44 132.80,201.18 133.30,195.09 133.80,189.87 134.30,185.30 134.80,181.26 135.30,177.65 135.80,174.39 136.30,171.43 136.80,168.72 137.30,166.22 137.80,163.92 138.30,161.78 138.80,159.79 139.30,157.94 139.80,156.21 140.30,154.58 140.80,153.05 141.30,151.61 141.80,150.06 142.30,148.37 142.80,146.76 143.30,145.21 143.80,143.72 144.30,142.29 144.80,140.91 145.30,139.58 145.80,138.37 146.30,137.26 146.80,136.19 147.30,135.15 147.80,134.15 148.30,133.19 148.80,132.27 149.30,131.37 149.80,130.51 150.30,129.68 150.80,128.87 151.30,128.09 151.80,127.34 152.30,126.61 152.80,125.91 153.30,125.23 153.80,124.58 154.30,123.94 154.80,123.33 155.30,122.73 155.80,122.16 156.30,121.61 156.80,121.14 157.30,120.71 157.80,120.30 158.30,119.90 158.80,119.52 159.30,119.16 159.80,118.82 160.30,118.49 160.80,118.17 161.30,117.87 161.80,117.58 162.30,117.31 162.80,117.05 163.30,116.81 163.80,116.58 164.30,116.36 164.80,116.16 165.30,115.97 165.80,115.79 166.30,115.62 166.80,115.47 167.30,115.32 167.80,115.12 168.30,114.93 168.80,114.76 169.30,114.59 169.80,114.43 170.30,114.29 170.80,114.16 171.30,114.04 171.80,113.93 172.30,113.83 172.80,113.74 173.30,113.66 173.80,113.59 174.30,113.53 174.80,113.48 175.30,113.45 175.80,113.42 176.30,113.40 176.80,113.40 177.30,113.40 177.80,113.41 178.30,113.41 178.80,113.40 179.30,113.40 179.80,113.41 180.30,113.43 180.80,113.45 181.30,113.48 181.80,113.53 182.30,113.59 182.80,113.66 183.30,113.74 183.80,113.83 184.30,113.93 184.80,114.04 185.30,114.16 185.80,114.29 186.30,114.43 186.80,114.58 187.30,114.74 187.80,114.91 188.30,115.09 188.80,115.28 189.30,115.49 189.80,115.70 190.30,115.93 190.80,116.16 191.30,116.41 191.80,116.67 192.30,116.94 192.80,117.22 193.30,117.52 193.80,117.82 194.30,118.14 194.80,118.47 195.30,118.81 195.80,119.17 196.30,119.54 196.80,119.92 197.30,120.31 197.80,120.72 198.30,121.14 198.80,121.59 199.30,122.15 199.80,122.72 200.30,123.30 200.80,123.90 201.30,124.52 201.80,125.15 202.30,125.80 202.80,126.46 203.30,127.14 203.80,127.84 204.30,128.56 204.80,129.29 205.30,130.04 205.80,130.82 206.30,131.56 206.80,132.30 207.30,133.07 207.80,133.86 208.30,134.67 208.80,135.50 209.30,136.37 209.80,137.25 210.30,138.17 210.80,139.11 211.30,140.08 211.80,141.09 212.30,142.12 212.80,143.19 213.30,144.30 213.80,145.44 214.30,146.60 214.80,147.79 215.30,149.03 215.80,150.31 216.30,151.65 216.80,153.03 217.30,154.48 217.80,155.98 218.30,157.55 218.80,159.18 219.30,160.97 219.80,162.88 220.30,164.88 220.80,166.98 221.30,169.18 221.80,171.50 222.30,173.95 222.80,176.55 223.30,179.30 223.80,182.24 224.30,185.38 224.80,188.76 225.30,192.42 225.80,196.40 226.30,200.77 226.80,205.60 227.30,210.99 227.80,217.08 228.30,224.03 228.80,232.04 229.30,241.28 229.80,251.46 230.30,260.57 230.70,263.57 230.80,263.41 231.30,258.39 231.80,249.76 232.30,240.90 232.80,232.91 233.30,225.92 233.80,219.82 234.30,214.46 234.80,209.69 235.30,205.42 235.80,201.56 236.30,198.05 236.80,194.84 237.30,191.87 237.80,189.13 238.30,186.58 238.80,184.20 239.30,181.97 239.80,179.18 240.30,176.27 240.80,173.48 241.30,170.78 241.80,168.17 242.30,165.65 242.80,163.20 243.30,160.82 243.80,158.51 244.30,156.26 244.80,154.06 245.30,152.33 245.80,151.26 246.30,150.25 246.80,149.28 247.30,148.35 247.80,147.46 248.30,146.60 248.80,145.79 249.30,145.01 249.80,144.26 250.30,143.54 250.80,142.85 251.30,142.19 251.80,141.56 252.30,140.95 252.80,140.37 253.30,139.81 253.80,139.27 254.30,138.76 254.80,138.27 255.30,137.80 255.80,137.29 256.30,136.77 256.80,136.26 257.30,135.78 257.80,135.31 258.30,134.85 258.80,134.42 259.30,134.00 259.80,133.60 260.30,133.21 260.80,132.83 261.30,132.48 261.80,132.13 262.30,131.80 262.80,131.48 263.30,131.18 263.80,130.89 264.30,130.61 264.80,130.22 265.30,129.76 265.80,129.31 266.30,128.88 266.80,128.45 267.30,128.04 267.80,127.64 268.30,127.25 268.80,126.87 269.30,126.50 269.80,126.14 270.30,125.79 270.80,125.45 271.30,125.13 271.80,124.81 272.30,124.59 272.80,124.37 273.30,124.17 273.80,123.98 274.30,123.79 274.80,123.62 275.30,123.45 275.80,123.29 276.30,123.15 276.80,123.01 277.30,122.88 277.80,122.76 278.30,122.64 278.80,122.54 279.30,122.44 279.80,122.36 280.30,122.28 280.80,122.21 281.30,122.15 281.80,122.09 282.30,122.05 282.80,122.01 283.30,121.99 283.80,121.97 284.30,121.99 284.80,122.04 285.30,122.10 285.80,122.17 286.30,122.27 286.80,122.36 287.30,122.45 287.80,122.56 288.30,122.67 288.80,122.79 289.30,122.92 289.80,123.05 290.30,123.20 290.80,123.35 291.30,123.51 291.80,123.68 292.30,123.86 292.80,124.05 293.30,124.24 293.80,124.44 294.30,124.66 294.80,124.88 295.30,125.11 295.80,125.35 296.30,125.59 296.80,125.85 297.30,126.12 297.80,126.39 298.30,126.67 298.80,126.97 299.30,127.27 299.80,127.58 300.30,127.90 300.80,128.23 301.30,128.57 301.80,128.92 302.30,129.29 302.80,129.64 303.30,129.93 303.80,130.24 304.30,130.56 304.80,130.88 305.30,131.22 305.80,131.57 306.30,131.93 306.80,132.30 307.30,132.68 307.80,133.08 308.30,133.49 308.80,133.91 309.30,134.34 309.80,134.79 310.30,135.25 310.80,135.72 311.30,136.21 311.80,136.71 312.30,137.21 312.80,137.72 313.30,138.25 313.80,138.80 314.30,139.36 314.80,139.94 315.30,140.54 315.80,141.15 316.30,141.79 316.80,142.44 317.30,143.11 317.80,143.80 318.30,144.51 318.80,145.25 319.30,146.00 319.80,146.78 320.30,147.59 320.80,148.42 321.30,149.41 321.80,150.46 322.30,151.54 322.80,152.65 323.30,153.80 323.80,154.97 324.30,156.18 324.80,157.43 325.30,158.71 325.80,160.04 326.30,161.41 326.80,162.82 327.30,164.28 327.80,165.80 328.30,167.37 328.80,168.99 329.30,170.69 329.80,172.44 330.30,174.28 330.80,176.19 331.30,178.19 331.80,180.29 332.30,182.49 332.80,184.80 333.30,187.25 333.80,189.83 334.30,192.58 334.80,195.51 335.30,198.65 335.80,202.04 336.30,205.70 336.80,209.70 337.30,214.10 337.80,218.80 338.30,224.12 338.80,230.25 339.30,237.46 339.80,246.18 340.30,257.21 340.80,272.00 341.30,293.54 341.80,317.83 341.85,318.22 342.30,296.20 342.80,271.73 343.30,255.52 343.80,243.71 344.30,234.47 344.80,226.89 345.30,220.47 345.80,214.79 346.30,209.73 346.80,205.18 347.30,201.05 347.80,197.28 348.30,193.79 348.80,190.56 349.30,187.54 349.80,184.71 350.30,182.05 350.80,179.53 351.30,177.15 351.80,174.88 352.30,172.72 352.80,170.66 353.30,168.69 353.80,166.80 354.30,164.99 354.80,163.25 355.30,161.57 355.80,159.95 356.30,158.39 356.80,157.37 357.30,156.51 357.80,155.71 358.30,154.94 358.80,154.22 359.30,153.54 359.80,152.90 360.30,152.29 360.80,151.72 361.30,151.17 361.80,150.66 362.30,150.18 362.80,149.73 363.30,149.30 363.80,148.85 364.30,148.36 364.80,147.89 365.30,147.45 365.80,147.02 366.30,146.62 366.80,146.24 367.30,145.88 367.80,145.54 368.30,145.22 368.80,144.91 369.30,144.63 369.80,144.36 370.30,144.11 370.80,143.88 371.30,143.49 371.80,143.08 372.30,142.69 372.80,142.30 373.30,141.94 373.80,141.59 374.30,141.25 374.80,140.93 375.30,140.62 375.80,140.32 376.30,140.04 376.80,139.77 377.30,139.51 377.80,139.27 378.30,139.04 378.80,138.84 379.30,138.65 379.80,138.48 380.30,138.31 380.80,138.16 381.30,138.02 381.80,137.89 382.30,137.77 382.80,137.66 383.30,137.57 383.80,137.48 384.30,137.41 384.80,137.34 385.30,137.29 385.80,137.25 386.30,137.22 386.80,137.19 387.30,137.18 387.80,137.08 388.30,136.99 388.80,136.91 389.30,136.84 389.80,136.78 390.30,136.73 390.80,136.69 391.30,136.66 391.80,136.64 392.30,136.63 392.80,136.63 393.30,136.64 393.80,136.66 394.30,136.69 394.80,136.76 395.30,136.86 395.80,136.97 396.30,137.09 396.80,137.22 397.30,137.36 397.80,137.50 398.30,137.66 398.80,137.84 399.30,138.02 399.80,138.21 400.30,138.41 400.80,138.62 401.30,138.85 401.80,139.08 402.30,139.27 402.80,139.46 403.30,139.67 403.80,139.88 404.30,140.11 404.80,140.35 405.30,140.61 405.80,140.87 406.30,141.15 406.80,141.44 407.30,141.74 407.80,142.06 408.30,142.38 408.80,142.72 409.30,143.08 409.80,143.45 410.30,143.83 410.80,144.23 411.30,144.65 411.80,145.09 412.30,145.54 412.80,146.01 413.30,146.49 413.80,146.99 414.30,147.51 414.80,148.04 415.30,148.60 415.80,149.17 416.30,149.76 416.80,150.37 417.30,151.00 417.80,151.65 418.30,152.36 418.80,153.12 419.30,153.90 419.80,154.71 420.30,155.54 420.80,156.39 421.30,157.28 421.80,158.19 422.30,159.13 422.80,160.09 423.30,161.10 423.80,162.13 424.30,163.20 424.80,164.30 425.30,165.44 425.80,166.62 426.30,167.85 426.80,169.12 427.30,170.43 427.80,171.80 428.30,173.22 428.80,174.70 429.30,176.24 429.80,177.85 430.30,179.53 430.80,181.28 431.30,183.12 431.80,185.05 432.30,187.09 432.80,189.23 433.30,191.49 433.80,193.90 434.30,196.45 434.80,199.18 435.30,202.10 435.80,205.26 436.30,208.68 436.80,212.40 437.30,216.50 437.80,221.04 438.30,226.14 438.80,231.94 439.30,238.68 439.80,246.70 440.30,256.59 440.80,269.44 441.30,287.52 441.80,314.65 442.10,326.77 442.30,317.69 442.80,284.53 443.30,264.19 443.80,250.56 444.30,240.38 444.80,232.29 445.30,225.61 445.80,219.93 446.30,215.00 446.80,210.66 447.30,206.79 447.80,203.31 448.30,200.15 448.80,197.26 449.30,194.60 449.80,192.15 450.30,189.88 450.80,187.77 451.30,185.80 451.80,183.86 452.30,181.89 452.80,180.03 453.30,178.26 453.80,176.57 454.30,174.97 454.80,173.45 455.30,171.99 455.80,170.60 456.30,169.27 456.80,167.99 457.30,166.77 457.80,165.60 458.30,164.48 458.80,163.40 459.30,162.36 459.80,161.26 460.30,160.20 460.80,159.18 461.30,158.20 461.80,157.24 462.30,156.32 462.80,155.43 463.30,154.58 463.80,153.75 464.30,152.94 464.80,152.17 465.30,151.42 465.80,150.70 466.30,150.00 466.80,149.32 467.30,148.71 467.80,148.15 468.30,147.60 468.80,147.08 469.30,146.58 469.80,146.10 470.30,145.64 470.80,145.20 471.30,144.78 471.80,144.38 472.30,144.00 472.80,143.63 473.30,143.28 473.80,142.96 474.30,142.65 474.80,142.33 475.30,141.96 475.80,141.60 476.30,141.25 476.80,140.93 477.30,140.62 477.80,140.32 478.30,140.05 478.80,139.79 479.30,139.54 479.80,139.31 480.30,139.10 480.80,138.90 481.30,138.72 481.80,138.56 482.30,138.31 482.80,138.17 483.30,138.05 483.80,137.99 484.30,137.94 484.80,137.91 485.30,137.90 485.80,137.90 486.30,137.92 486.80,137.96 487.30,138.01 487.80,138.07 488.30,138.16 488.80,138.26 489.30,138.38 489.80,138.51 490.30,138.66 490.80,138.83 491.30,139.01 491.80,139.15 492.30,139.31 492.80,139.49 493.30,139.69 493.80,139.91 494.30,140.15 494.80,140.41 495.30,140.68 495.80,140.98 496.30,141.30 496.80,141.64 497.30,142.01 497.80,142.39 498.30,142.80 498.80,143.23 499.30,143.69 499.80,144.17 500.30,144.54 500.80,144.93 501.30,145.36 501.80,145.81 502.30,146.29 502.80,146.80 503.30,147.34 503.80,147.92 504.30,148.53 504.80,149.18 505.30,149.87 505.80,150.60 506.30,151.37 506.80,152.19 507.30,153.05 507.80,153.93 508.30,154.79 508.80,155.70 509.30,156.68 509.80,157.72 510.30,158.83 510.80,160.02 511.30,161.28 511.80,162.63 512.30,164.08 512.80,165.63 513.30,167.29 513.80,168.64 514.30,170.03 514.80,171.57 515.30,173.29 515.80,175.21 516.30,177.35 516.80,179.77 517.30,182.77 517.80,187.25 518.30,192.13 518.80,197.50 519.30,203.45 519.80,210.10 520.30,217.55 520.80,225.85 521.30,234.71 521.80,242.86 522.30,247.28 522.40,247.42 522.80,245.36 523.30,238.81 523.80,230.95 524.30,223.45 524.80,216.78 525.30,204.97 525.80,191.96 526.30,179.18 526.80,173.49 527.30,168.28 527.80,163.47 528.30,159.00 528.80,154.81 529.30,150.88 529.80,147.71 530.30,145.12" fill="none" stroke="#935858" stroke-width="2.4" stroke-linejoin="round"/>
<g fill="#935858"><path d="M76.30 84.39L77.59 88.02L81.44 88.13L78.39 90.47L79.47 94.16L76.30 91.99L73.13 94.16L74.21 90.47L71.16 88.13L75.01 88.02Z"/><path d="M84.46 88.04L85.75 91.67L89.59 91.78L86.55 94.12L87.63 97.81L84.46 95.64L81.28 97.81L82.36 94.12L79.32 91.78L83.16 91.67Z"/><path d="M92.61 93.86L93.91 97.48L97.75 97.59L94.70 99.94L95.79 103.63L92.61 101.46L89.44 103.63L90.52 99.94L87.48 97.59L91.32 97.48Z"/><path d="M100.77 101.70L102.06 105.32L105.90 105.43L102.86 107.78L103.94 111.47L100.77 109.30L97.59 111.47L98.68 107.78L95.63 105.43L99.47 105.32Z"/><path d="M108.92 114.80L110.22 118.42L114.06 118.54L111.02 120.88L112.10 124.57L108.92 122.40L105.75 124.57L106.83 120.88L103.79 118.54L107.63 118.42Z"/><path d="M117.08 133.79L118.37 137.41L122.22 137.52L119.17 139.87L120.25 143.56L117.08 141.39L113.91 143.56L114.99 139.87L111.94 137.52L115.79 137.41Z"/><path d="M125.24 172.12L126.53 175.74L130.37 175.85L127.33 178.20L128.41 181.89L125.24 179.72L122.06 181.89L123.14 178.20L120.10 175.85L123.94 175.74Z"/><path d="M133.39 189.27L134.69 192.89L138.53 193.00L135.48 195.35L136.57 199.04L133.39 196.87L130.22 199.04L131.30 195.35L128.26 193.00L132.10 192.89Z"/><path d="M141.55 146.13L142.84 149.75L146.68 149.86L143.64 152.21L144.72 155.90L141.55 153.73L138.37 155.90L139.46 152.21L136.41 149.86L140.25 149.75Z"/><path d="M149.70 125.87L151.00 129.49L154.84 129.60L151.80 131.95L152.88 135.64L149.70 133.47L146.53 135.64L147.61 131.95L144.57 129.60L148.41 129.49Z"/><path d="M157.86 115.45L159.15 119.07L163.00 119.18L159.95 121.53L161.03 125.22L157.86 123.05L154.69 125.22L155.77 121.53L152.72 119.18L156.57 119.07Z"/><path d="M166.02 110.91L167.31 114.53L171.15 114.64L168.11 116.99L169.19 120.68L166.02 118.51L162.84 120.68L163.92 116.99L160.88 114.64L164.72 114.53Z"/><path d="M174.17 108.75L175.47 112.37L179.31 112.48L176.26 114.82L177.35 118.51L174.17 116.35L171.00 118.51L172.08 114.82L169.04 112.48L172.88 112.37Z"/><path d="M182.33 108.80L183.62 112.42L187.46 112.53L184.42 114.88L185.50 118.56L182.33 116.40L179.15 118.56L180.24 114.88L177.19 112.53L181.03 112.42Z"/><path d="M190.48 111.21L191.78 114.83L195.62 114.94L192.58 117.29L193.66 120.98L190.48 118.81L187.31 120.98L188.39 117.29L185.35 114.94L189.19 114.83Z"/><path d="M198.64 116.63L199.93 120.25L203.78 120.36L200.73 122.71L201.81 126.40L198.64 124.23L195.47 126.40L196.55 122.71L193.50 120.36L197.35 120.25Z"/><path d="M206.80 127.50L208.09 131.12L211.93 131.23L208.89 133.57L209.97 137.26L206.80 135.10L203.62 137.26L204.70 133.57L201.66 131.23L205.50 131.12Z"/><path d="M214.95 143.36L216.25 146.98L220.09 147.09L217.04 149.44L218.13 153.13L214.95 150.96L211.78 153.13L212.86 149.44L209.82 147.09L213.66 146.98Z"/><path d="M223.11 173.42L224.40 177.04L228.24 177.15L225.20 179.50L226.28 183.19L223.11 181.02L219.93 183.19L221.02 179.50L217.97 177.15L221.81 177.04Z"/><path d="M231.26 254.13L232.56 257.75L236.40 257.86L233.36 260.21L234.44 263.90L231.26 261.73L228.09 263.90L229.17 260.21L226.13 257.86L229.97 257.75Z"/><path d="M239.42 176.66L240.71 180.28L244.56 180.39L241.51 182.74L242.59 186.43L239.42 184.26L236.25 186.43L237.33 182.74L234.28 180.39L238.13 180.28Z"/><path d="M247.58 143.05L248.87 146.67L252.71 146.78L249.67 149.13L250.75 152.82L247.58 150.65L244.40 152.82L245.48 149.13L242.44 146.78L246.28 146.67Z"/><path d="M255.73 132.56L257.03 136.18L260.87 136.30L257.82 138.64L258.91 142.33L255.73 140.16L252.56 142.33L253.64 138.64L250.60 136.30L254.44 136.18Z"/><path d="M263.89 126.04L265.18 129.66L269.02 129.77L265.98 132.12L267.06 135.81L263.89 133.64L260.71 135.81L261.80 132.12L258.75 129.77L262.59 129.66Z"/><path d="M272.04 119.90L273.34 123.52L277.18 123.63L274.14 125.98L275.22 129.67L272.04 127.50L268.87 129.67L269.95 125.98L266.91 123.63L270.75 123.52Z"/><path d="M280.20 117.49L281.49 121.11L285.34 121.22L282.29 123.57L283.37 127.26L280.20 125.09L277.03 127.26L278.11 123.57L275.06 121.22L278.91 121.11Z"/><path d="M288.36 117.88L289.65 121.50L293.49 121.61L290.45 123.96L291.53 127.65L288.36 125.48L285.18 127.65L286.26 123.96L283.22 121.61L287.06 121.50Z"/><path d="M296.51 120.90L297.81 124.52L301.65 124.63L298.60 126.98L299.69 130.67L296.51 128.50L293.34 130.67L294.42 126.98L291.38 124.63L295.22 124.52Z"/><path d="M304.67 125.99L305.96 129.62L309.80 129.73L306.76 132.07L307.84 135.76L304.67 133.59L301.49 135.76L302.58 132.07L299.53 129.73L303.37 129.62Z"/><path d="M312.82 132.95L314.12 136.57L317.96 136.68L314.92 139.03L316.00 142.72L312.82 140.55L309.65 142.72L310.73 139.03L307.69 136.68L311.53 136.57Z"/><path d="M320.98 143.95L322.27 147.57L326.12 147.68L323.07 150.03L324.15 153.72L320.98 151.55L317.81 153.72L318.89 150.03L315.84 147.68L319.69 147.57Z"/><path d="M329.14 165.32L330.43 168.94L334.27 169.05L331.23 171.40L332.31 175.09L329.14 172.92L325.96 175.09L327.04 171.40L324.00 169.05L327.84 168.94Z"/><path d="M337.29 209.23L338.59 212.85L342.43 212.96L339.38 215.31L340.47 219.00L337.29 216.83L334.12 219.00L335.20 215.31L332.16 212.96L336.00 212.85Z"/><path d="M345.45 213.94L346.74 217.56L350.58 217.68L347.54 220.02L348.62 223.71L345.45 221.54L342.27 223.71L343.36 220.02L340.31 217.68L344.15 217.56Z"/><path d="M353.60 162.73L354.90 166.35L358.74 166.47L355.70 168.81L356.78 172.50L353.60 170.33L350.43 172.50L351.51 168.81L348.47 166.47L352.31 166.35Z"/><path d="M361.76 145.90L363.05 149.52L366.90 149.63L363.85 151.98L364.93 155.67L361.76 153.50L358.59 155.67L359.67 151.98L356.62 149.63L360.47 149.52Z"/><path d="M369.92 139.50L371.21 143.12L375.05 143.23L372.01 145.58L373.09 149.27L369.92 147.10L366.74 149.27L367.82 145.58L364.78 143.23L368.62 143.12Z"/><path d="M378.07 134.34L379.37 137.96L383.21 138.07L380.16 140.42L381.25 144.11L378.07 141.94L374.90 144.11L375.98 140.42L372.94 138.07L376.78 137.96Z"/><path d="M386.23 132.42L387.52 136.04L391.36 136.15L388.32 138.50L389.40 142.19L386.23 140.02L383.05 142.19L384.14 138.50L381.09 136.15L384.93 136.04Z"/><path d="M394.38 131.90L395.68 135.52L399.52 135.63L396.48 137.98L397.56 141.67L394.38 139.50L391.21 141.67L392.29 137.98L389.25 135.63L393.09 135.52Z"/><path d="M402.54 134.56L403.83 138.18L407.68 138.29L404.63 140.64L405.71 144.33L402.54 142.16L399.37 144.33L400.45 140.64L397.40 138.29L401.25 138.18Z"/><path d="M410.70 139.35L411.99 142.97L415.83 143.08L412.79 145.43L413.87 149.11L410.70 146.95L407.52 149.11L408.60 145.43L405.56 143.08L409.40 142.97Z"/><path d="M418.85 148.40L420.15 152.02L423.99 152.13L420.94 154.48L422.03 158.17L418.85 156.00L415.68 158.17L416.76 154.48L413.72 152.13L417.56 152.02Z"/><path d="M427.01 164.86L428.30 168.48L432.14 168.59L429.10 170.94L430.18 174.63L427.01 172.46L423.83 174.63L424.92 170.94L421.87 168.59L425.71 168.48Z"/><path d="M435.16 196.48L436.46 200.10L440.30 200.21L437.26 202.56L438.34 206.25L435.16 204.08L431.99 206.25L433.07 202.56L430.03 200.21L433.87 200.10Z"/><path d="M443.32 258.74L444.61 262.36L448.46 262.47L445.41 264.82L446.49 268.51L443.32 266.34L440.15 268.51L441.23 264.82L438.18 262.47L442.03 262.36Z"/><path d="M451.48 180.34L452.77 183.96L456.61 184.07L453.57 186.42L454.65 190.11L451.48 187.94L448.30 190.11L449.38 186.42L446.34 184.07L450.18 183.96Z"/><path d="M459.63 156.83L460.93 160.45L464.77 160.56L461.72 162.91L462.81 166.60L459.63 164.43L456.46 166.60L457.54 162.91L454.50 160.56L458.34 160.45Z"/><path d="M467.79 143.36L469.08 146.98L472.92 147.09L469.88 149.44L470.96 153.13L467.79 150.96L464.61 153.13L465.70 149.44L462.65 147.09L466.49 146.98Z"/><path d="M475.94 136.70L477.24 140.32L481.08 140.43L478.04 142.78L479.12 146.46L475.94 144.30L472.77 146.46L473.85 142.78L470.81 140.43L474.65 140.32Z"/><path d="M484.10 133.16L485.39 136.78L489.24 136.89L486.19 139.24L487.27 142.93L484.10 140.76L480.93 142.93L482.01 139.24L478.96 136.89L482.81 136.78Z"/><path d="M492.26 134.50L493.55 138.12L497.39 138.23L494.35 140.58L495.43 144.27L492.26 142.10L489.08 144.27L490.16 140.58L487.12 138.23L490.96 138.12Z"/><path d="M500.41 139.83L501.71 143.45L505.55 143.56L502.50 145.91L503.59 149.60L500.41 147.43L497.24 149.60L498.32 145.91L495.28 143.56L499.12 143.45Z"/><path d="M508.57 150.47L509.86 154.09L513.70 154.20L510.66 156.55L511.74 160.24L508.57 158.07L505.39 160.24L506.48 156.55L503.43 154.20L507.27 154.09Z"/><path d="M516.72 174.58L518.02 178.20L521.86 178.31L518.82 180.66L519.90 184.35L516.72 182.18L513.55 184.35L514.63 180.66L511.59 178.31L515.43 178.20Z"/><path d="M524.88 210.99L526.17 214.61L530.02 214.72L526.97 217.07L528.05 220.76L524.88 218.59L521.71 220.76L522.79 217.07L519.74 214.72L523.59 214.61Z"/></g>
</g>
<line x1="155.1" y1="33.4" x2="203.3" y2="33.4" stroke="#f0202a" stroke-width="2.2"/><g fill="#f0202a"><circle cx="179.20" cy="33.40" r="3.8"/></g><text x="206.5" y="39.7" font-family="Liberation Serif, serif" font-size="17" stroke="#000" stroke-width="0.15">0&#176;</text><line x1="234.5" y1="33.4" x2="282.7" y2="33.4" stroke="#145be4" stroke-width="2.2"/><g fill="#145be4"><rect x="255.20" y="30.00" width="6.8" height="6.8"/></g><text x="285.8" y="39.7" font-family="Liberation Serif, serif" font-size="17" stroke="#000" stroke-width="0.15" textLength="23.3" lengthAdjust="spacingAndGlyphs">30&#176;</text><line x1="322.2" y1="33.4" x2="370.5" y2="33.4" stroke="#18a355" stroke-width="2.2"/><g fill="#18a355"><path d="M346.35 28.40L351.25 36.80L341.45 36.80Z"/></g><text x="374.4" y="39.7" font-family="Liberation Serif, serif" font-size="17" stroke="#000" stroke-width="0.15" textLength="24" lengthAdjust="spacingAndGlyphs">60&#176;</text><line x1="410.5" y1="33.4" x2="459.1" y2="33.4" stroke="#a05ae6" stroke-width="2.2"/><g fill="#a05ae6"><path d="M434.80 38.40L439.70 30.00L429.90 30.00Z"/></g><text x="461.6" y="39.7" font-family="Liberation Serif, serif" font-size="17" stroke="#000" stroke-width="0.15" textLength="24" lengthAdjust="spacingAndGlyphs">90&#176;</text><line x1="172.4" y1="58.8" x2="220.5" y2="58.8" stroke="#cf9804" stroke-width="2.2"/><g fill="#cf9804"><path d="M196.45 53.70L201.05 58.80L196.45 63.90L191.85 58.80Z"/></g><text x="224.8" y="65.1" font-family="Liberation Serif, serif" font-size="17" stroke="#000" stroke-width="0.15" textLength="31.7" lengthAdjust="spacingAndGlyphs">120&#176;</text><line x1="269.1" y1="58.8" x2="317.3" y2="58.8" stroke="#08c5c2" stroke-width="2.2"/><g fill="#08c5c2"><path d="M293.20 54.20L297.96 57.65L296.14 63.25L290.26 63.25L288.44 57.65Z"/></g><text x="320.9" y="65.1" font-family="Liberation Serif, serif" font-size="17" stroke="#000" stroke-width="0.15" textLength="31.7" lengthAdjust="spacingAndGlyphs">150&#176;</text><line x1="366" y1="58.8" x2="414" y2="58.8" stroke="#935858" stroke-width="2.2"/><g fill="#935858"><path d="M390.00 54.00L391.29 57.62L395.14 57.73L392.09 60.08L393.17 63.77L390.00 61.60L386.83 63.77L387.91 60.08L384.86 57.73L388.71 57.62Z"/></g><text x="418.2" y="65.1" font-family="Liberation Serif, serif" font-size="17" stroke="#000" stroke-width="0.15" textLength="31.7" lengthAdjust="spacingAndGlyphs">180&#176;</text>
<g stroke="#000" stroke-width="1.4"><line x1="76.30" y1="349.10" x2="76.30" y2="341.10"/><line x1="121.61" y1="349.10" x2="121.61" y2="344.90"/><line x1="166.92" y1="349.10" x2="166.92" y2="341.10"/><line x1="212.23" y1="349.10" x2="212.23" y2="344.90"/><line x1="257.54" y1="349.10" x2="257.54" y2="341.10"/><line x1="302.85" y1="349.10" x2="302.85" y2="344.90"/><line x1="348.16" y1="349.10" x2="348.16" y2="341.10"/><line x1="393.47" y1="349.10" x2="393.47" y2="344.90"/><line x1="438.78" y1="349.10" x2="438.78" y2="341.10"/><line x1="484.09" y1="349.10" x2="484.09" y2="344.90"/><line x1="529.40" y1="349.10" x2="529.40" y2="341.10"/><line x1="76.30" y1="16.50" x2="84.30" y2="16.50"/><line x1="76.30" y1="26.00" x2="80.30" y2="26.00"/><line x1="76.30" y1="35.51" x2="80.30" y2="35.51"/><line x1="76.30" y1="45.01" x2="80.30" y2="45.01"/><line x1="76.30" y1="54.51" x2="80.30" y2="54.51"/><line x1="76.30" y1="64.01" x2="84.30" y2="64.01"/><line x1="76.30" y1="73.52" x2="80.30" y2="73.52"/><line x1="76.30" y1="83.02" x2="80.30" y2="83.02"/><line x1="76.30" y1="92.52" x2="80.30" y2="92.52"/><line x1="76.30" y1="102.03" x2="80.30" y2="102.03"/><line x1="76.30" y1="111.53" x2="84.30" y2="111.53"/><line x1="76.30" y1="121.03" x2="80.30" y2="121.03"/><line x1="76.30" y1="130.53" x2="80.30" y2="130.53"/><line x1="76.30" y1="140.04" x2="80.30" y2="140.04"/><line x1="76.30" y1="149.54" x2="80.30" y2="149.54"/><line x1="76.30" y1="159.04" x2="84.30" y2="159.04"/><line x1="76.30" y1="168.55" x2="80.30" y2="168.55"/><line x1="76.30" y1="178.05" x2="80.30" y2="178.05"/><line x1="76.30" y1="187.55" x2="80.30" y2="187.55"/><line x1="76.30" y1="197.05" x2="80.30" y2="197.05"/><line x1="76.30" y1="206.56" x2="84.30" y2="206.56"/><line x1="76.30" y1="216.06" x2="80.30" y2="216.06"/><line x1="76.30" y1="225.56" x2="80.30" y2="225.56"/><line x1="76.30" y1="235.07" x2="80.30" y2="235.07"/><line x1="76.30" y1="244.57" x2="80.30" y2="244.57"/><line x1="76.30" y1="254.07" x2="84.30" y2="254.07"/><line x1="76.30" y1="263.57" x2="80.30" y2="263.57"/><line x1="76.30" y1="273.08" x2="80.30" y2="273.08"/><line x1="76.30" y1="282.58" x2="80.30" y2="282.58"/><line x1="76.30" y1="292.08" x2="80.30" y2="292.08"/><line x1="76.30" y1="301.59" x2="84.30" y2="301.59"/><line x1="76.30" y1="311.09" x2="80.30" y2="311.09"/><line x1="76.30" y1="320.59" x2="80.30" y2="320.59"/><line x1="76.30" y1="330.09" x2="80.30" y2="330.09"/><line x1="76.30" y1="339.60" x2="80.30" y2="339.60"/><line x1="76.30" y1="349.10" x2="84.30" y2="349.10"/></g>
<rect x="76.30" y="16.50" width="453.10" height="332.60" fill="none" stroke="#000" stroke-width="1.6"/>
<g font-family="Liberation Serif, serif" fill="#000" stroke="#000" stroke-width="0.2"><text x="67.6" y="21.20" text-anchor="end" font-size="19.6">0</text><text x="67.6" y="68.71" text-anchor="end" font-size="19.6">&#8722;10</text><text x="67.6" y="116.23" text-anchor="end" font-size="19.6">&#8722;20</text><text x="67.6" y="163.74" text-anchor="end" font-size="19.6">&#8722;30</text><text x="67.6" y="211.26" text-anchor="end" font-size="19.6">&#8722;40</text><text x="67.6" y="258.77" text-anchor="end" font-size="19.6">&#8722;50</text><text x="67.6" y="306.29" text-anchor="end" font-size="19.6">&#8722;60</text><text x="67.6" y="353.80" text-anchor="end" font-size="19.6">&#8722;70</text><text x="76.30" y="371.8" text-anchor="middle" font-size="20">9.3</text><text x="166.92" y="371.8" text-anchor="middle" font-size="20">9.5</text><text x="257.54" y="371.8" text-anchor="middle" font-size="20">9.7</text><text x="348.16" y="371.8" text-anchor="middle" font-size="20">9.9</text><text x="438.78" y="371.8" text-anchor="middle" font-size="20">10.1</text><text x="529.40" y="371.8" text-anchor="middle" font-size="20">10.3</text><text x="219" y="400.9" font-size="22.5" textLength="167" lengthAdjust="spacingAndGlyphs">Frequency (GHz)</text><text transform="translate(20.7,220.1) rotate(-90)" font-size="22.5">S<tspan font-size="15" dy="6">11</tspan><tspan dy="-6"> (dB)</tspan></text></g>
</svg>
</body></html>
